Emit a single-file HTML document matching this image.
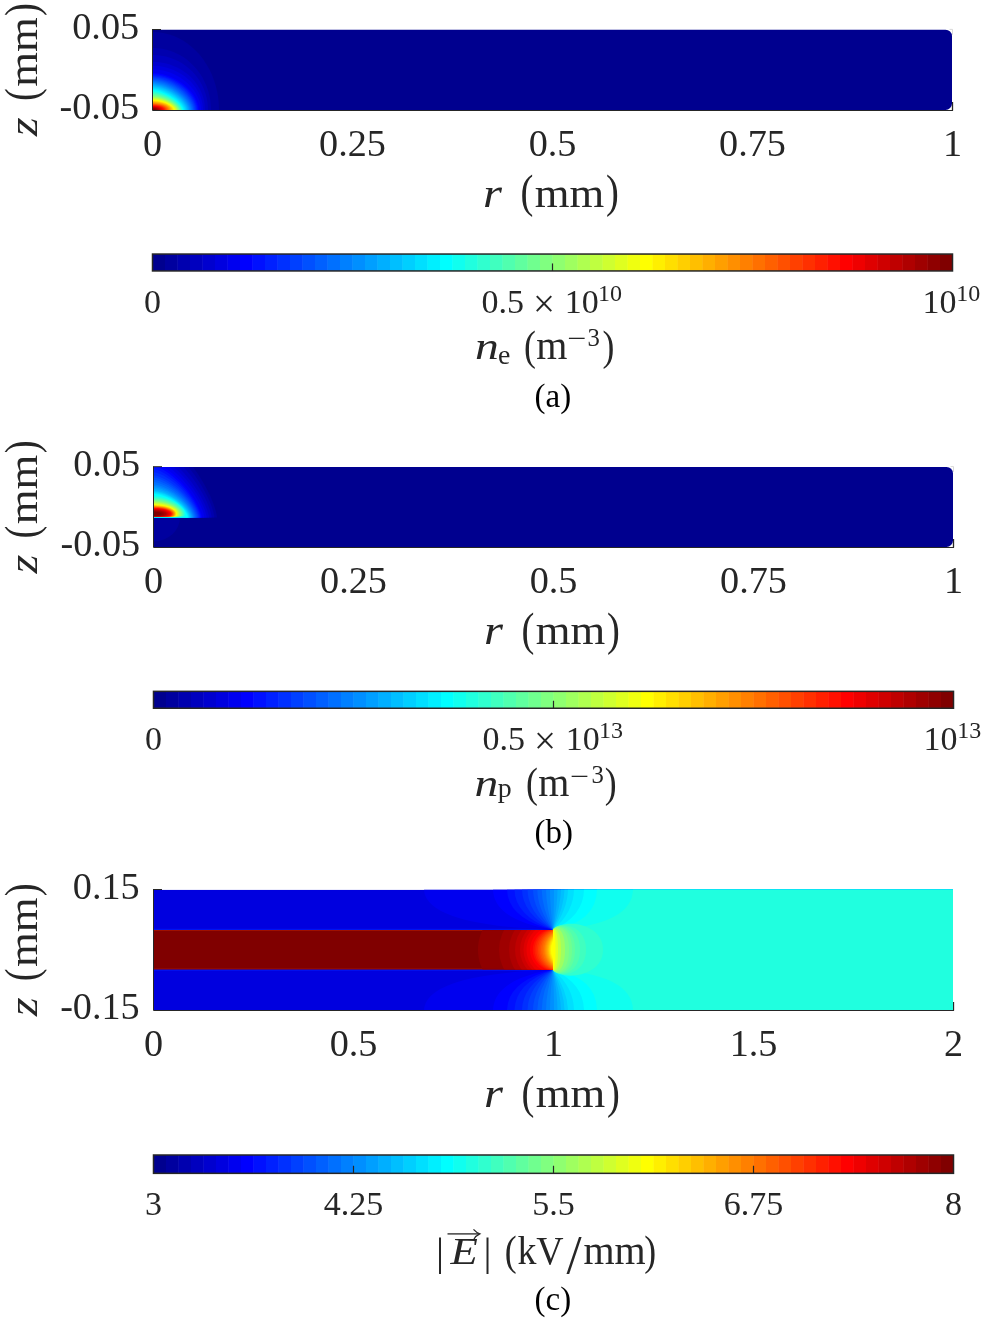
<!DOCTYPE html><html><head><meta charset="utf-8"><title>Figure</title><style>
html,body{margin:0;padding:0;background:#fff;overflow:hidden}svg{display:block}
text{font-family:"Liberation Serif",serif;fill:#262626;white-space:pre}
.it{font-style:italic}.cap{fill:#000}
</style></head><body>
<svg width="984" height="1322" viewBox="0 0 984 1322">
<path d="M152.5,29.0 V110.5 H953.0" stroke="#262626" stroke-width="1" fill="none"/>
<path d="M352.5,110.5 V102.0M552.5,110.5 V102.0M752.5,110.5 V102.0M952.5,110.5 V102.0" stroke="#262626" stroke-width="1.3" fill="none"/>
<path d="M153.5,466.2 V547.5 H954.0" stroke="#262626" stroke-width="1" fill="none"/>
<path d="M353.5,547.5 V539.0M553.5,547.5 V539.0M753.5,547.5 V539.0M953.5,547.5 V539.0" stroke="#262626" stroke-width="1.3" fill="none"/>
<path d="M153.5,889.0 V1010.5 H954.0" stroke="#262626" stroke-width="1" fill="none"/>
<path d="M353.5,1010.5 V1002.0M553.5,1010.5 V1002.0M753.5,1010.5 V1002.0M953.5,1010.5 V1002.0" stroke="#262626" stroke-width="1.3" fill="none"/>
<clipPath id="ca"><path d="M153,29.7 H945.5 A6.5,6.5 0 0 1 952,36.2 V103.5 A6.5,6.5 0 0 1 945.5,110.0 H153 Z"/></clipPath><path d="M153,29.7 H945.5 A6.5,6.5 0 0 1 952,36.2 V103.5 A6.5,6.5 0 0 1 945.5,110.0 H153 Z" fill="#00008f"/>
<g clip-path="url(#ca)">
<path d="M151,32.0 L153.0,32.0 158.2,32.2 163.3,33.0 168.4,34.2 173.4,35.8 178.3,37.9 183.0,40.5 187.5,43.5 191.8,46.9 195.9,50.7 199.7,54.8 203.2,59.3 206.4,64.2 209.3,69.2 211.8,74.6 214.0,80.2 215.8,85.9 217.2,91.8 218.2,97.8 218.8,103.9 219.0,110.0 218.8,116.1 218.2,122.2 217.2,128.2 215.8,134.1 214.0,139.8 211.8,145.4 209.3,150.8 206.4,155.8 203.2,160.7 199.7,165.2 195.9,169.3 191.8,173.1 187.5,176.5 183.0,179.5 178.3,182.1 173.4,184.2 168.4,185.8 163.3,187.0 158.2,187.8 153.0,188.0 L151,188.0 Z" fill="#00009f"/>
<path d="M151,48.0 L153.0,48.0 157.6,48.2 162.1,48.8 166.5,49.7 170.9,51.0 175.2,52.7 179.3,54.8 183.3,57.1 187.1,59.8 190.7,62.9 194.0,66.2 197.1,69.7 199.9,73.6 202.5,77.6 204.7,81.9 206.6,86.3 208.2,90.8 209.4,95.5 210.3,100.3 210.8,105.1 211.0,110.0 210.8,114.9 210.3,119.7 209.4,124.5 208.2,129.2 206.6,133.7 204.7,138.1 202.5,142.4 199.9,146.4 197.1,150.3 194.0,153.8 190.7,157.1 187.1,160.2 183.3,162.9 179.3,165.2 175.2,167.3 170.9,169.0 166.5,170.3 162.1,171.2 157.6,171.8 153.0,172.0 L151,172.0 Z" fill="#0000af"/>
<path d="M151,55.0 L153.0,55.0 157.3,55.2 161.6,55.7 165.8,56.5 170.0,57.7 174.0,59.2 178.0,61.0 181.7,63.1 185.3,65.5 188.7,68.2 191.9,71.1 194.8,74.3 197.5,77.7 199.9,81.3 202.0,85.0 203.8,89.0 205.3,93.0 206.5,97.2 207.3,101.4 207.8,105.7 208.0,110.0 207.8,114.3 207.3,118.6 206.5,122.8 205.3,127.0 203.8,131.0 202.0,135.0 199.9,138.7 197.5,142.3 194.8,145.7 191.9,148.9 188.7,151.8 185.3,154.5 181.7,156.9 178.0,159.0 174.0,160.8 170.0,162.3 165.8,163.5 161.6,164.3 157.3,164.8 153.0,165.0 L151,165.0 Z" fill="#0000bf"/>
<path d="M151,62.0 L153.0,62.0 157.1,62.1 161.1,62.6 165.1,63.3 169.1,64.3 172.9,65.7 176.6,67.2 180.2,69.1 183.6,71.2 186.8,73.5 189.8,76.1 192.5,78.8 195.1,81.8 197.3,84.9 199.3,88.2 201.0,91.6 202.5,95.2 203.6,98.8 204.4,102.5 204.8,106.2 205.0,110.0 204.8,113.8 204.4,117.5 203.6,121.2 202.5,124.8 201.0,128.4 199.3,131.8 197.3,135.1 195.1,138.2 192.5,141.2 189.8,143.9 186.8,146.5 183.6,148.8 180.2,150.9 176.6,152.8 172.9,154.3 169.1,155.7 165.1,156.7 161.1,157.4 157.1,157.9 153.0,158.0 L151,158.0 Z" fill="#0000cf"/>
<path d="M151,65.7 L153.0,65.7 156.6,65.8 160.3,66.2 164.1,66.9 167.8,67.9 171.5,69.2 175.1,70.7 178.5,72.4 181.9,74.4 185.0,76.6 187.9,79.0 190.7,81.6 193.2,84.4 195.4,87.3 197.4,90.4 199.1,93.6 200.5,96.8 201.6,100.2 202.4,103.5 202.8,106.8 203.0,110.0 202.8,113.2 202.4,116.5 201.6,119.8 200.5,123.2 199.1,126.4 197.4,129.6 195.4,132.7 193.2,135.6 190.7,138.4 187.9,141.0 185.0,143.4 181.9,145.6 178.5,147.6 175.1,149.3 171.5,150.8 167.8,152.1 164.1,153.1 160.3,153.8 156.6,154.2 153.0,154.3 L151,154.3 Z" fill="#0000df"/>
<path d="M151,69.3 L153.0,69.3 156.1,69.5 159.6,69.9 163.1,70.5 166.6,71.5 170.2,72.6 173.6,74.1 176.9,75.7 180.2,77.6 183.2,79.7 186.1,81.9 188.8,84.4 191.2,87.0 193.5,89.7 195.4,92.6 197.1,95.5 198.5,98.4 199.6,101.4 200.4,104.4 200.8,107.3 201.0,110.0 200.8,112.7 200.4,115.6 199.6,118.6 198.5,121.6 197.1,124.5 195.4,127.4 193.5,130.3 191.2,133.0 188.8,135.6 186.1,138.1 183.2,140.3 180.2,142.4 176.9,144.3 173.6,145.9 170.2,147.4 166.6,148.5 163.1,149.5 159.6,150.1 156.1,150.5 153.0,150.7 L151,150.7 Z" fill="#0000ef"/>
<path d="M151,73.0 L153.0,73.0 155.7,73.1 158.9,73.5 162.1,74.1 165.5,75.0 168.8,76.1 172.1,77.5 175.4,79.0 178.5,80.8 181.5,82.7 184.3,84.8 186.9,87.1 189.3,89.5 191.5,92.0 193.5,94.6 195.1,97.3 196.5,100.0 197.6,102.7 198.4,105.3 198.8,107.8 199.0,110.0 198.8,112.2 198.4,114.7 197.6,117.3 196.5,120.0 195.1,122.7 193.5,125.4 191.5,128.0 189.3,130.5 186.9,132.9 184.3,135.2 181.5,137.3 178.5,139.2 175.4,141.0 172.1,142.5 168.8,143.9 165.5,145.0 162.1,145.9 158.9,146.5 155.7,146.9 153.0,147.0 L151,147.0 Z" fill="#0000ff"/>
<path d="M151,74.1 L153.0,74.1 155.6,74.2 158.6,74.6 161.7,75.2 165.0,76.1 168.2,77.2 171.5,78.5 174.7,80.0 177.7,81.7 180.7,83.7 183.5,85.7 186.1,87.9 188.4,90.3 190.6,92.7 192.5,95.3 194.2,97.8 195.5,100.4 196.6,103.0 197.4,105.6 197.8,108.0 198.0,110.0 197.8,112.0 197.4,114.4 196.6,117.0 195.5,119.6 194.2,122.2 192.5,124.7 190.6,127.3 188.4,129.7 186.1,132.1 183.5,134.3 180.7,136.3 177.7,138.3 174.7,140.0 171.5,141.5 168.2,142.8 165.0,143.9 161.7,144.8 158.6,145.4 155.6,145.8 153.0,145.9 L151,145.9 Z" fill="#0010ff"/>
<path d="M151,75.2 L153.0,75.2 155.4,75.4 158.3,75.7 161.3,76.3 164.5,77.2 167.7,78.3 170.8,79.5 174.0,81.0 177.0,82.7 179.9,84.6 182.6,86.6 185.2,88.8 187.5,91.1 189.7,93.5 191.6,95.9 193.2,98.4 194.5,100.9 195.6,103.4 196.4,105.8 196.8,108.1 197.0,110.0 196.8,111.9 196.4,114.2 195.6,116.6 194.5,119.1 193.2,121.6 191.6,124.1 189.7,126.5 187.5,128.9 185.2,131.2 182.6,133.4 179.9,135.4 177.0,137.3 174.0,139.0 170.8,140.5 167.7,141.7 164.5,142.8 161.3,143.7 158.3,144.3 155.4,144.6 153.0,144.8 L151,144.8 Z" fill="#0020ff"/>
<path d="M151,76.4 L153.0,76.4 155.2,76.5 158.0,76.9 161.0,77.4 164.0,78.3 167.1,79.3 170.2,80.6 173.3,82.0 176.2,83.7 179.1,85.5 181.8,87.5 184.3,89.6 186.6,91.8 188.7,94.2 190.6,96.5 192.2,99.0 193.6,101.4 194.6,103.8 195.4,106.1 195.8,108.2 196.0,110.0 195.8,111.8 195.4,113.9 194.6,116.2 193.6,118.6 192.2,121.0 190.6,123.5 188.7,125.8 186.6,128.2 184.3,130.4 181.8,132.5 179.1,134.5 176.2,136.3 173.3,138.0 170.2,139.4 167.1,140.7 164.0,141.7 161.0,142.6 158.0,143.1 155.2,143.5 153.0,143.6 L151,143.6 Z" fill="#0030ff"/>
<path d="M151,77.5 L153.0,77.5 155.1,77.6 157.7,78.0 160.6,78.6 163.5,79.4 166.6,80.4 169.6,81.6 172.6,83.1 175.5,84.7 178.3,86.5 180.9,88.4 183.4,90.4 185.7,92.6 187.8,94.9 189.7,97.2 191.3,99.5 192.6,101.8 193.6,104.1 194.4,106.3 194.8,108.4 195.0,110.0 194.8,111.6 194.4,113.7 193.6,115.9 192.6,118.2 191.3,120.5 189.7,122.8 187.8,125.1 185.7,127.4 183.4,129.6 180.9,131.6 178.3,133.5 175.5,135.3 172.6,136.9 169.6,138.4 166.6,139.6 163.5,140.6 160.6,141.4 157.7,142.0 155.1,142.4 153.0,142.5 L151,142.5 Z" fill="#0040ff"/>
<path d="M151,78.6 L153.0,78.6 155.0,78.7 157.5,79.1 160.2,79.7 163.1,80.4 166.0,81.5 169.0,82.7 171.9,84.1 174.7,85.6 177.5,87.4 180.1,89.3 182.6,91.3 184.8,93.4 186.9,95.5 188.7,97.8 190.3,100.0 191.6,102.3 192.7,104.5 193.4,106.6 193.8,108.5 194.0,110.0 193.8,111.5 193.4,113.4 192.7,115.5 191.6,117.7 190.3,120.0 188.7,122.2 186.9,124.5 184.8,126.6 182.6,128.7 180.1,130.7 177.5,132.6 174.7,134.4 171.9,135.9 169.0,137.3 166.0,138.5 163.1,139.6 160.2,140.3 157.5,140.9 155.0,141.3 153.0,141.4 L151,141.4 Z" fill="#0050ff"/>
<path d="M151,79.8 L153.0,79.8 154.8,79.9 157.2,80.2 159.9,80.8 162.6,81.5 165.5,82.5 168.4,83.7 171.2,85.1 174.0,86.6 176.7,88.3 179.3,90.1 181.7,92.1 183.9,94.1 186.0,96.2 187.8,98.4 189.3,100.6 190.6,102.7 191.7,104.8 192.4,106.8 192.9,108.6 193.0,110.0 192.9,111.4 192.4,113.2 191.7,115.2 190.6,117.3 189.3,119.4 187.8,121.6 186.0,123.8 183.9,125.9 181.7,127.9 179.3,129.9 176.7,131.7 174.0,133.4 171.2,134.9 168.4,136.3 165.5,137.5 162.6,138.5 159.9,139.2 157.2,139.8 154.8,140.1 153.0,140.2 L151,140.2 Z" fill="#0060ff"/>
<path d="M151,80.9 L153.0,80.9 154.7,81.0 157.0,81.3 159.5,81.9 162.2,82.6 165.0,83.6 167.8,84.7 170.5,86.1 173.3,87.6 175.9,89.2 178.5,91.0 180.8,92.9 183.0,94.9 185.1,96.9 186.8,99.0 188.4,101.1 189.7,103.1 190.7,105.1 191.4,107.0 191.9,108.7 192.0,110.0 191.9,111.3 191.4,113.0 190.7,114.9 189.7,116.9 188.4,118.9 186.8,121.0 185.1,123.1 183.0,125.1 180.8,127.1 178.5,129.0 175.9,130.8 173.3,132.4 170.5,133.9 167.8,135.3 165.0,136.4 162.2,137.4 159.5,138.1 157.0,138.7 154.7,139.0 153.0,139.1 L151,139.1 Z" fill="#0070ff"/>
<path d="M151,82.0 L153.0,82.0 154.6,82.1 156.7,82.4 159.2,83.0 161.8,83.7 164.4,84.6 167.2,85.8 169.9,87.1 172.6,88.5 175.2,90.1 177.6,91.8 180.0,93.7 182.2,95.6 184.1,97.6 185.9,99.6 187.4,101.6 188.7,103.5 189.7,105.5 190.4,107.2 190.9,108.8 191.0,110.0 190.9,111.2 190.4,112.8 189.7,114.5 188.7,116.5 187.4,118.4 185.9,120.4 184.1,122.4 182.2,124.4 180.0,126.3 177.6,128.2 175.2,129.9 172.6,131.5 169.9,132.9 167.2,134.2 164.4,135.4 161.8,136.3 159.2,137.0 156.7,137.6 154.6,137.9 153.0,138.0 L151,138.0 Z" fill="#0080ff"/>
<path d="M151,83.0 L153.0,83.0 154.5,83.1 156.6,83.4 158.9,83.9 161.4,84.7 164.1,85.6 166.7,86.7 169.4,87.9 172.0,89.3 174.5,90.9 177.0,92.6 179.2,94.3 181.4,96.2 183.3,98.1 185.0,100.0 186.5,101.9 187.8,103.9 188.8,105.7 189.5,107.4 189.9,108.9 190.1,110.0 189.9,111.1 189.5,112.6 188.8,114.3 187.8,116.1 186.5,118.1 185.0,120.0 183.3,121.9 181.4,123.8 179.2,125.7 177.0,127.4 174.5,129.1 172.0,130.7 169.4,132.1 166.7,133.3 164.1,134.4 161.4,135.3 158.9,136.1 156.6,136.6 154.5,136.9 153.0,137.0 L151,137.0 Z" fill="#008fff"/>
<path d="M151,84.0 L153.0,84.0 154.4,84.1 156.4,84.4 158.7,84.9 161.1,85.6 163.7,86.5 166.3,87.5 168.8,88.8 171.4,90.1 173.9,91.6 176.3,93.3 178.5,95.0 180.6,96.8 182.5,98.6 184.2,100.5 185.7,102.3 186.9,104.1 187.9,105.9 188.6,107.5 189.0,109.0 189.1,110.0 189.0,111.0 188.6,112.5 187.9,114.1 186.9,115.9 185.7,117.7 184.2,119.5 182.5,121.4 180.6,123.2 178.5,125.0 176.3,126.7 173.9,128.4 171.4,129.9 168.8,131.2 166.3,132.5 163.7,133.5 161.1,134.4 158.7,135.1 156.4,135.6 154.4,135.9 153.0,136.0 L151,136.0 Z" fill="#009fff"/>
<path d="M151,85.0 L153.0,85.0 154.4,85.1 156.3,85.4 158.5,85.9 160.8,86.6 163.3,87.4 165.8,88.4 168.3,89.6 170.8,90.9 173.3,92.4 175.6,94.0 177.8,95.6 179.8,97.3 181.7,99.1 183.4,100.9 184.8,102.7 186.0,104.4 186.9,106.1 187.6,107.7 188.0,109.0 188.2,110.0 188.0,111.0 187.6,112.3 186.9,113.9 186.0,115.6 184.8,117.3 183.4,119.1 181.7,120.9 179.8,122.7 177.8,124.4 175.6,126.0 173.3,127.6 170.8,129.1 168.3,130.4 165.8,131.6 163.3,132.6 160.8,133.4 158.5,134.1 156.3,134.6 154.4,134.9 153.0,135.0 L151,135.0 Z" fill="#00afff"/>
<path d="M151,86.0 L153.0,86.0 154.3,86.1 156.1,86.4 158.2,86.9 160.5,87.5 162.9,88.3 165.4,89.3 167.8,90.5 170.3,91.7 172.6,93.1 174.9,94.7 177.1,96.2 179.1,97.9 180.9,99.6 182.5,101.3 183.9,103.1 185.1,104.7 186.0,106.3 186.7,107.8 187.1,109.1 187.2,110.0 187.1,110.9 186.7,112.2 186.0,113.7 185.1,115.3 183.9,116.9 182.5,118.7 180.9,120.4 179.1,122.1 177.1,123.8 174.9,125.3 172.6,126.9 170.3,128.3 167.8,129.5 165.4,130.7 162.9,131.7 160.5,132.5 158.2,133.1 156.1,133.6 154.3,133.9 153.0,134.0 L151,134.0 Z" fill="#00bfff"/>
<path d="M151,87.0 L153.0,87.0 154.2,87.1 156.0,87.4 158.0,87.8 160.2,88.5 162.5,89.3 164.9,90.2 167.3,91.3 169.7,92.5 172.0,93.9 174.2,95.3 176.3,96.9 178.3,98.5 180.1,100.1 181.7,101.8 183.1,103.4 184.2,105.0 185.1,106.5 185.8,107.9 186.2,109.2 186.3,110.0 186.2,110.8 185.8,112.1 185.1,113.5 184.2,115.0 183.1,116.6 181.7,118.2 180.1,119.9 178.3,121.5 176.3,123.1 174.2,124.7 172.0,126.1 169.7,127.5 167.3,128.7 164.9,129.8 162.5,130.7 160.2,131.5 158.0,132.2 156.0,132.6 154.2,132.9 153.0,133.0 L151,133.0 Z" fill="#00cfff"/>
<path d="M151,88.0 L153.0,88.0 154.1,88.1 155.8,88.4 157.8,88.8 159.9,89.4 162.2,90.2 164.5,91.1 166.8,92.2 169.1,93.3 171.4,94.6 173.6,96.0 175.6,97.5 177.5,99.0 179.3,100.6 180.8,102.2 182.2,103.8 183.3,105.3 184.2,106.7 184.9,108.1 185.2,109.2 185.4,110.0 185.2,110.8 184.9,111.9 184.2,113.3 183.3,114.7 182.2,116.2 180.8,117.8 179.3,119.4 177.5,121.0 175.6,122.5 173.6,124.0 171.4,125.4 169.1,126.7 166.8,127.8 164.5,128.9 162.2,129.8 159.9,130.6 157.8,131.2 155.8,131.6 154.1,131.9 153.0,132.0 L151,132.0 Z" fill="#00dfff"/>
<path d="M151,89.0 L153.0,89.0 154.1,89.1 155.7,89.3 157.6,89.8 159.7,90.3 161.8,91.1 164.1,92.0 166.3,93.0 168.6,94.1 170.8,95.4 172.9,96.7 174.9,98.1 176.8,99.6 178.5,101.1 180.0,102.6 181.3,104.1 182.4,105.6 183.3,106.9 183.9,108.2 184.3,109.3 184.4,110.0 184.3,110.7 183.9,111.8 183.3,113.1 182.4,114.4 181.3,115.9 180.0,117.4 178.5,118.9 176.8,120.4 174.9,121.9 172.9,123.3 170.8,124.6 168.6,125.9 166.3,127.0 164.1,128.0 161.8,128.9 159.7,129.7 157.6,130.2 155.7,130.7 154.1,130.9 153.0,131.0 L151,131.0 Z" fill="#00efff"/>
<path d="M151,90.0 L153.0,90.0 154.0,90.1 155.6,90.3 157.4,90.7 159.4,91.3 161.5,92.0 163.6,92.9 165.8,93.8 168.0,94.9 170.2,96.1 172.2,97.4 174.2,98.8 176.0,100.2 177.7,101.6 179.2,103.0 180.4,104.4 181.5,105.8 182.4,107.1 183.0,108.3 183.4,109.3 183.5,110.0 183.4,110.7 183.0,111.7 182.4,112.9 181.5,114.2 180.4,115.6 179.2,117.0 177.7,118.4 176.0,119.8 174.2,121.2 172.2,122.6 170.2,123.9 168.0,125.1 165.8,126.2 163.6,127.1 161.5,128.0 159.4,128.7 157.4,129.3 155.6,129.7 154.0,129.9 153.0,130.0 L151,130.0 Z" fill="#00ffff"/>
<path d="M151,90.8 L153.0,90.8 154.0,90.8 155.5,91.1 157.3,91.5 159.3,92.0 161.4,92.7 163.5,93.5 165.6,94.4 167.8,95.5 169.9,96.6 171.9,97.8 173.8,99.1 175.6,100.5 177.2,101.9 178.7,103.3 180.0,104.6 181.0,106.0 181.8,107.2 182.4,108.4 182.8,109.3 182.9,110.0 182.8,110.7 182.4,111.6 181.8,112.8 181.0,114.0 180.0,115.4 178.7,116.7 177.2,118.1 175.6,119.5 173.8,120.9 171.9,122.2 169.9,123.4 167.8,124.5 165.6,125.6 163.5,126.5 161.4,127.3 159.3,128.0 157.3,128.5 155.5,128.9 154.0,129.2 153.0,129.2 L151,129.2 Z" fill="#10ffef"/>
<path d="M151,91.5 L153.0,91.5 154.0,91.6 155.5,91.8 157.3,92.2 159.2,92.7 161.2,93.3 163.3,94.1 165.5,95.0 167.5,96.0 169.6,97.1 171.6,98.3 173.4,99.5 175.2,100.8 176.8,102.2 178.2,103.5 179.5,104.8 180.5,106.1 181.3,107.3 181.9,108.4 182.3,109.4 182.4,110.0 182.3,110.6 181.9,111.6 181.3,112.7 180.5,113.9 179.5,115.2 178.2,116.5 176.8,117.8 175.2,119.2 173.4,120.5 171.6,121.7 169.6,122.9 167.5,124.0 165.5,125.0 163.3,125.9 161.2,126.7 159.2,127.3 157.3,127.8 155.5,128.2 154.0,128.4 153.0,128.5 L151,128.5 Z" fill="#20ffdf"/>
<path d="M151,92.2 L153.0,92.2 154.0,92.3 155.5,92.5 157.2,92.9 159.1,93.4 161.1,94.0 163.2,94.8 165.3,95.6 167.3,96.6 169.3,97.6 171.3,98.8 173.1,99.9 174.8,101.2 176.4,102.4 177.8,103.7 179.0,105.0 180.0,106.2 180.8,107.4 181.3,108.5 181.7,109.4 181.8,110.0 181.7,110.6 181.3,111.5 180.8,112.6 180.0,113.8 179.0,115.0 177.8,116.3 176.4,117.6 174.8,118.8 173.1,120.1 171.3,121.2 169.3,122.4 167.3,123.4 165.3,124.4 163.2,125.2 161.1,126.0 159.1,126.6 157.2,127.1 155.5,127.5 154.0,127.7 153.0,127.8 L151,127.8 Z" fill="#30ffcf"/>
<path d="M151,93.0 L153.0,93.0 154.0,93.1 155.5,93.3 157.2,93.6 159.1,94.1 161.0,94.7 163.0,95.4 165.1,96.2 167.1,97.1 169.0,98.1 170.9,99.2 172.7,100.3 174.4,101.5 175.9,102.7 177.3,104.0 178.5,105.2 179.5,106.4 180.2,107.5 180.8,108.5 181.1,109.4 181.2,110.0 181.1,110.6 180.8,111.5 180.2,112.5 179.5,113.6 178.5,114.8 177.3,116.0 175.9,117.3 174.4,118.5 172.7,119.7 170.9,120.8 169.0,121.9 167.1,122.9 165.1,123.8 163.0,124.6 161.0,125.3 159.1,125.9 157.2,126.4 155.5,126.7 154.0,126.9 153.0,127.0 L151,127.0 Z" fill="#40ffbf"/>
<path d="M151,93.8 L153.0,93.8 154.0,93.8 155.5,94.0 157.1,94.3 159.0,94.8 160.9,95.3 162.9,96.0 164.9,96.8 166.8,97.7 168.8,98.6 170.6,99.7 172.4,100.8 174.0,101.9 175.5,103.0 176.8,104.2 178.0,105.4 178.9,106.5 179.7,107.6 180.2,108.6 180.6,109.4 180.7,110.0 180.6,110.6 180.2,111.4 179.7,112.4 178.9,113.5 178.0,114.6 176.8,115.8 175.5,117.0 174.0,118.1 172.4,119.2 170.6,120.3 168.8,121.4 166.8,122.3 164.9,123.2 162.9,124.0 160.9,124.7 159.0,125.2 157.1,125.7 155.5,126.0 154.0,126.2 153.0,126.2 L151,126.2 Z" fill="#50ffaf"/>
<path d="M151,94.5 L153.0,94.5 154.0,94.6 155.4,94.7 157.1,95.1 158.9,95.5 160.8,96.0 162.7,96.7 164.7,97.4 166.6,98.2 168.5,99.1 170.3,100.1 172.0,101.2 173.6,102.2 175.0,103.3 176.3,104.5 177.5,105.6 178.4,106.6 179.2,107.7 179.7,108.6 180.0,109.4 180.1,110.0 180.0,110.6 179.7,111.4 179.2,112.3 178.4,113.4 177.5,114.4 176.3,115.5 175.0,116.7 173.6,117.8 172.0,118.8 170.3,119.9 168.5,120.9 166.6,121.8 164.7,122.6 162.7,123.3 160.8,124.0 158.9,124.5 157.1,124.9 155.4,125.3 154.0,125.4 153.0,125.5 L151,125.5 Z" fill="#60ff9f"/>
<path d="M151,95.2 L153.0,95.2 154.0,95.3 155.4,95.5 157.0,95.8 158.8,96.2 160.7,96.7 162.5,97.3 164.5,98.0 166.3,98.8 168.2,99.7 170.0,100.6 171.6,101.6 173.2,102.6 174.6,103.6 175.9,104.7 177.0,105.8 177.9,106.8 178.6,107.8 179.1,108.7 179.5,109.5 179.6,110.0 179.5,110.5 179.1,111.3 178.6,112.2 177.9,113.2 177.0,114.2 175.9,115.3 174.6,116.4 173.2,117.4 171.6,118.4 170.0,119.4 168.2,120.3 166.3,121.2 164.5,122.0 162.5,122.7 160.7,123.3 158.8,123.8 157.0,124.2 155.4,124.5 154.0,124.7 153.0,124.8 L151,124.8 Z" fill="#70ff8f"/>
<path d="M151,96.0 L153.0,96.0 154.0,96.1 155.4,96.2 157.0,96.5 158.7,96.9 160.5,97.4 162.4,97.9 164.3,98.6 166.1,99.3 167.9,100.2 169.6,101.0 171.3,102.0 172.8,102.9 174.2,103.9 175.4,104.9 176.5,105.9 177.4,106.9 178.1,107.9 178.6,108.7 178.9,109.5 179.0,110.0 178.9,110.5 178.6,111.3 178.1,112.1 177.4,113.1 176.5,114.1 175.4,115.1 174.2,116.1 172.8,117.1 171.3,118.0 169.6,119.0 167.9,119.8 166.1,120.7 164.3,121.4 162.4,122.1 160.5,122.6 158.7,123.1 157.0,123.5 155.4,123.8 154.0,123.9 153.0,124.0 L151,124.0 Z" fill="#80ff80"/>
<path d="M151,96.5 L153.0,96.5 154.0,96.6 155.4,96.7 157.0,97.0 158.7,97.3 160.5,97.8 162.3,98.3 164.1,99.0 165.9,99.7 167.7,100.5 169.4,101.3 170.9,102.2 172.4,103.1 173.8,104.1 175.0,105.1 176.0,106.0 176.9,107.0 177.5,107.9 178.0,108.7 178.3,109.5 178.4,110.0 178.3,110.5 178.0,111.3 177.5,112.1 176.9,113.0 176.0,114.0 175.0,114.9 173.8,115.9 172.4,116.9 170.9,117.8 169.4,118.7 167.7,119.5 165.9,120.3 164.1,121.0 162.3,121.7 160.5,122.2 158.7,122.7 157.0,123.0 155.4,123.3 154.0,123.4 153.0,123.5 L151,123.5 Z" fill="#8fff70"/>
<path d="M151,97.0 L153.0,97.0 154.0,97.1 155.4,97.2 157.0,97.5 158.7,97.8 160.4,98.2 162.2,98.8 164.0,99.4 165.7,100.0 167.4,100.8 169.1,101.6 170.6,102.5 172.0,103.3 173.3,104.3 174.5,105.2 175.5,106.1 176.4,107.0 177.0,107.9 177.5,108.7 177.8,109.5 177.9,110.0 177.8,110.5 177.5,111.3 177.0,112.1 176.4,113.0 175.5,113.9 174.5,114.8 173.3,115.7 172.0,116.7 170.6,117.5 169.1,118.4 167.4,119.2 165.7,120.0 164.0,120.6 162.2,121.2 160.4,121.8 158.7,122.2 157.0,122.5 155.4,122.8 154.0,122.9 153.0,123.0 L151,123.0 Z" fill="#9fff60"/>
<path d="M151,97.5 L153.0,97.5 154.0,97.5 155.4,97.7 157.0,97.9 158.6,98.3 160.4,98.7 162.1,99.2 163.8,99.8 165.5,100.4 167.2,101.1 168.8,101.9 170.3,102.7 171.7,103.6 172.9,104.4 174.1,105.3 175.0,106.2 175.8,107.1 176.5,108.0 176.9,108.8 177.2,109.5 177.3,110.0 177.2,110.5 176.9,111.2 176.5,112.0 175.8,112.9 175.0,113.8 174.1,114.7 172.9,115.6 171.7,116.4 170.3,117.3 168.8,118.1 167.2,118.9 165.5,119.6 163.8,120.2 162.1,120.8 160.4,121.3 158.6,121.7 157.0,122.1 155.4,122.3 154.0,122.5 153.0,122.5 L151,122.5 Z" fill="#afff50"/>
<path d="M151,98.0 L153.0,98.0 154.0,98.0 155.4,98.2 157.0,98.4 158.6,98.7 160.3,99.1 162.0,99.6 163.7,100.1 165.3,100.8 167.0,101.4 168.5,102.2 170.0,102.9 171.3,103.8 172.5,104.6 173.6,105.5 174.5,106.3 175.3,107.2 175.9,108.0 176.4,108.8 176.7,109.5 176.8,110.0 176.7,110.5 176.4,111.2 175.9,112.0 175.3,112.8 174.5,113.7 173.6,114.5 172.5,115.4 171.3,116.2 170.0,117.1 168.5,117.8 167.0,118.6 165.3,119.2 163.7,119.9 162.0,120.4 160.3,120.9 158.6,121.3 157.0,121.6 155.4,121.8 154.0,122.0 153.0,122.0 L151,122.0 Z" fill="#bfff40"/>
<path d="M151,98.5 L153.0,98.5 154.0,98.5 155.4,98.7 156.9,98.9 158.6,99.2 160.2,99.6 161.9,100.0 163.5,100.5 165.1,101.1 166.7,101.8 168.2,102.5 169.6,103.2 170.9,104.0 172.1,104.8 173.1,105.6 174.1,106.4 174.8,107.2 175.4,108.0 175.8,108.8 176.1,109.5 176.2,110.0 176.1,110.5 175.8,111.2 175.4,112.0 174.8,112.8 174.1,113.6 173.1,114.4 172.1,115.2 170.9,116.0 169.6,116.8 168.2,117.5 166.7,118.2 165.1,118.9 163.5,119.5 161.9,120.0 160.2,120.4 158.6,120.8 156.9,121.1 155.4,121.3 154.0,121.5 153.0,121.5 L151,121.5 Z" fill="#cfff30"/>
<path d="M151,99.0 L153.0,99.0 154.1,99.0 155.4,99.2 156.9,99.4 158.5,99.6 160.1,100.0 161.8,100.4 163.4,100.9 164.9,101.5 166.5,102.1 167.9,102.8 169.3,103.5 170.5,104.2 171.7,105.0 172.7,105.7 173.6,106.5 174.3,107.3 174.9,108.1 175.3,108.8 175.5,109.5 175.6,110.0 175.5,110.5 175.3,111.2 174.9,111.9 174.3,112.7 173.6,113.5 172.7,114.3 171.7,115.0 170.5,115.8 169.3,116.5 167.9,117.2 166.5,117.9 164.9,118.5 163.4,119.1 161.8,119.6 160.1,120.0 158.5,120.4 156.9,120.6 155.4,120.8 154.1,121.0 153.0,121.0 L151,121.0 Z" fill="#dfff20"/>
<path d="M151,99.5 L153.0,99.5 154.1,99.5 155.4,99.7 156.9,99.8 158.5,100.1 160.0,100.4 161.6,100.8 163.2,101.3 164.7,101.8 166.2,102.4 167.6,103.0 168.9,103.7 170.1,104.4 171.3,105.1 172.2,105.9 173.1,106.7 173.8,107.4 174.3,108.1 174.7,108.8 175.0,109.5 175.1,110.0 175.0,110.5 174.7,111.2 174.3,111.9 173.8,112.6 173.1,113.3 172.2,114.1 171.3,114.9 170.1,115.6 168.9,116.3 167.6,117.0 166.2,117.6 164.7,118.2 163.2,118.7 161.6,119.2 160.0,119.6 158.5,119.9 156.9,120.2 155.4,120.3 154.1,120.5 153.0,120.5 L151,120.5 Z" fill="#efff10"/>
<path d="M151,100.0 L153.0,100.0 154.1,100.0 155.4,100.1 156.9,100.3 158.4,100.6 159.9,100.9 161.5,101.3 163.0,101.7 164.5,102.2 165.9,102.8 167.3,103.3 168.6,104.0 169.8,104.6 170.8,105.3 171.8,106.1 172.6,106.8 173.3,107.5 173.8,108.2 174.2,108.9 174.4,109.5 174.5,110.0 174.4,110.5 174.2,111.1 173.8,111.8 173.3,112.5 172.6,113.2 171.8,113.9 170.8,114.7 169.8,115.4 168.6,116.0 167.3,116.7 165.9,117.2 164.5,117.8 163.0,118.3 161.5,118.7 159.9,119.1 158.4,119.4 156.9,119.7 155.4,119.9 154.1,120.0 153.0,120.0 L151,120.0 Z" fill="#ffff00"/>
<path d="M151,100.4 L153.0,100.4 154.1,100.5 155.5,100.6 156.9,100.7 158.4,101.0 159.9,101.3 161.4,101.6 162.9,102.0 164.3,102.5 165.7,103.0 167.0,103.6 168.2,104.2 169.3,104.8 170.3,105.5 171.2,106.1 172.0,106.8 172.6,107.5 173.2,108.2 173.5,108.9 173.7,109.5 173.8,110.0 173.7,110.5 173.5,111.1 173.2,111.8 172.6,112.5 172.0,113.2 171.2,113.9 170.3,114.5 169.3,115.2 168.2,115.8 167.0,116.4 165.7,117.0 164.3,117.5 162.9,118.0 161.4,118.4 159.9,118.7 158.4,119.0 156.9,119.3 155.5,119.4 154.1,119.5 153.0,119.6 L151,119.6 Z" fill="#ffef00"/>
<path d="M151,100.9 L153.0,100.9 154.1,100.9 155.5,101.0 156.9,101.2 158.4,101.4 159.8,101.7 161.3,102.0 162.7,102.4 164.1,102.8 165.4,103.3 166.6,103.8 167.8,104.4 168.8,105.0 169.8,105.6 170.7,106.3 171.4,106.9 172.0,107.6 172.5,108.2 172.8,108.9 173.1,109.5 173.1,110.0 173.1,110.5 172.8,111.1 172.5,111.8 172.0,112.4 171.4,113.1 170.7,113.7 169.8,114.4 168.8,115.0 167.8,115.6 166.6,116.2 165.4,116.7 164.1,117.2 162.7,117.6 161.3,118.0 159.8,118.3 158.4,118.6 156.9,118.8 155.5,119.0 154.1,119.1 153.0,119.1 L151,119.1 Z" fill="#ffdf00"/>
<path d="M151,101.3 L153.0,101.3 154.2,101.3 155.5,101.4 156.9,101.6 158.3,101.8 159.7,102.0 161.1,102.4 162.5,102.7 163.8,103.1 165.1,103.6 166.3,104.1 167.4,104.6 168.4,105.2 169.3,105.8 170.1,106.4 170.8,107.0 171.4,107.6 171.8,108.3 172.2,108.9 172.4,109.5 172.4,110.0 172.4,110.5 172.2,111.1 171.8,111.7 171.4,112.4 170.8,113.0 170.1,113.6 169.3,114.2 168.4,114.8 167.4,115.4 166.3,115.9 165.1,116.4 163.8,116.9 162.5,117.3 161.1,117.6 159.7,118.0 158.3,118.2 156.9,118.4 155.5,118.6 154.2,118.7 153.0,118.7 L151,118.7 Z" fill="#ffcf00"/>
<path d="M151,101.8 L153.0,101.8 154.2,101.8 155.5,101.9 156.9,102.0 158.3,102.2 159.6,102.4 161.0,102.7 162.3,103.1 163.6,103.4 164.8,103.9 165.9,104.3 166.9,104.8 167.9,105.4 168.8,105.9 169.6,106.5 170.2,107.1 170.8,107.7 171.2,108.3 171.5,108.9 171.7,109.5 171.8,110.0 171.7,110.5 171.5,111.1 171.2,111.7 170.8,112.3 170.2,112.9 169.6,113.5 168.8,114.1 167.9,114.6 166.9,115.2 165.9,115.7 164.8,116.1 163.6,116.6 162.3,116.9 161.0,117.3 159.6,117.6 158.3,117.8 156.9,118.0 155.5,118.1 154.2,118.2 153.0,118.2 L151,118.2 Z" fill="#ffbf00"/>
<path d="M151,102.2 L153.0,102.2 154.2,102.2 155.5,102.3 156.9,102.4 158.2,102.6 159.5,102.8 160.8,103.1 162.1,103.4 163.3,103.8 164.4,104.2 165.5,104.6 166.5,105.1 167.4,105.6 168.3,106.1 169.0,106.6 169.6,107.2 170.1,107.7 170.5,108.3 170.8,108.9 171.0,109.5 171.1,110.0 171.0,110.5 170.8,111.1 170.5,111.7 170.1,112.3 169.6,112.8 169.0,113.4 168.3,113.9 167.4,114.4 166.5,114.9 165.5,115.4 164.4,115.8 163.3,116.2 162.1,116.6 160.8,116.9 159.5,117.2 158.2,117.4 156.9,117.6 155.5,117.7 154.2,117.8 153.0,117.8 L151,117.8 Z" fill="#ffaf00"/>
<path d="M151,102.6 L153.0,102.6 154.2,102.6 155.5,102.7 156.8,102.8 158.1,103.0 159.4,103.2 160.6,103.5 161.9,103.8 163.0,104.1 164.1,104.5 165.1,104.9 166.1,105.3 166.9,105.8 167.7,106.2 168.4,106.8 169.0,107.3 169.5,107.8 169.9,108.4 170.2,108.9 170.3,109.5 170.4,110.0 170.3,110.5 170.2,111.1 169.9,111.6 169.5,112.2 169.0,112.7 168.4,113.2 167.7,113.8 166.9,114.2 166.1,114.7 165.1,115.1 164.1,115.5 163.0,115.9 161.9,116.2 160.6,116.5 159.4,116.8 158.1,117.0 156.8,117.2 155.5,117.3 154.2,117.4 153.0,117.4 L151,117.4 Z" fill="#ff9f00"/>
<path d="M151,103.1 L153.0,103.1 154.2,103.1 155.5,103.1 156.8,103.3 158.0,103.4 159.3,103.6 160.5,103.8 161.6,104.1 162.7,104.4 163.7,104.8 164.7,105.1 165.6,105.5 166.4,106.0 167.2,106.4 167.8,106.9 168.4,107.4 168.9,107.9 169.2,108.4 169.5,109.0 169.6,109.5 169.7,110.0 169.6,110.5 169.5,111.0 169.2,111.6 168.9,112.1 168.4,112.6 167.8,113.1 167.2,113.6 166.4,114.0 165.6,114.5 164.7,114.9 163.7,115.2 162.7,115.6 161.6,115.9 160.5,116.2 159.3,116.4 158.0,116.6 156.8,116.7 155.5,116.9 154.2,116.9 153.0,116.9 L151,116.9 Z" fill="#ff8f00"/>
<path d="M151,103.5 L153.0,103.5 154.3,103.5 155.5,103.6 156.7,103.7 157.9,103.8 159.1,104.0 160.3,104.2 161.4,104.5 162.4,104.7 163.4,105.1 164.3,105.4 165.2,105.8 165.9,106.2 166.6,106.6 167.3,107.0 167.8,107.5 168.2,108.0 168.6,108.5 168.8,109.0 169.0,109.5 169.0,110.0 169.0,110.5 168.8,111.0 168.6,111.5 168.2,112.0 167.8,112.5 167.3,113.0 166.6,113.4 165.9,113.8 165.2,114.2 164.3,114.6 163.4,114.9 162.4,115.3 161.4,115.5 160.3,115.8 159.1,116.0 157.9,116.2 156.7,116.3 155.5,116.4 154.3,116.5 153.0,116.5 L151,116.5 Z" fill="#ff8000"/>
<path d="M151,103.8 L153.0,103.8 154.2,103.8 155.4,103.9 156.6,104.0 157.7,104.1 158.9,104.3 160.0,104.5 161.0,104.7 162.0,105.0 162.9,105.3 163.8,105.6 164.6,106.0 165.4,106.4 166.1,106.8 166.6,107.2 167.1,107.6 167.6,108.1 167.9,108.6 168.1,109.0 168.3,109.5 168.3,110.0 168.3,110.5 168.1,111.0 167.9,111.4 167.6,111.9 167.1,112.4 166.6,112.8 166.1,113.2 165.4,113.6 164.6,114.0 163.8,114.4 162.9,114.7 162.0,115.0 161.0,115.3 160.0,115.5 158.9,115.7 157.7,115.9 156.6,116.0 155.4,116.1 154.2,116.2 153.0,116.2 L151,116.2 Z" fill="#ff7000"/>
<path d="M151,104.1 L153.0,104.1 154.1,104.1 155.3,104.2 156.4,104.3 157.5,104.4 158.6,104.6 159.6,104.8 160.6,105.0 161.6,105.2 162.5,105.5 163.3,105.8 164.1,106.2 164.8,106.5 165.5,106.9 166.0,107.3 166.5,107.8 166.9,108.2 167.2,108.6 167.4,109.1 167.6,109.5 167.6,110.0 167.6,110.5 167.4,110.9 167.2,111.4 166.9,111.8 166.5,112.2 166.0,112.7 165.5,113.1 164.8,113.5 164.1,113.8 163.3,114.2 162.5,114.5 161.6,114.8 160.6,115.0 159.6,115.2 158.6,115.4 157.5,115.6 156.4,115.7 155.3,115.8 154.1,115.9 153.0,115.9 L151,115.9 Z" fill="#ff6000"/>
<path d="M151,104.4 L153.0,104.4 154.1,104.5 155.2,104.5 156.3,104.6 157.3,104.7 158.3,104.9 159.3,105.0 160.3,105.3 161.2,105.5 162.1,105.8 162.9,106.1 163.6,106.4 164.3,106.7 164.9,107.1 165.4,107.5 165.9,107.9 166.3,108.3 166.6,108.7 166.8,109.1 166.9,109.6 166.9,110.0 166.9,110.4 166.8,110.9 166.6,111.3 166.3,111.7 165.9,112.1 165.4,112.5 164.9,112.9 164.3,113.3 163.6,113.6 162.9,113.9 162.1,114.2 161.2,114.5 160.3,114.7 159.3,115.0 158.3,115.1 157.3,115.3 156.3,115.4 155.2,115.5 154.1,115.5 153.0,115.6 L151,115.6 Z" fill="#ff5000"/>
<path d="M151,104.8 L153.0,104.8 154.0,104.8 155.1,104.8 156.1,104.9 157.1,105.0 158.1,105.1 159.0,105.3 159.9,105.5 160.8,105.8 161.6,106.0 162.4,106.3 163.1,106.6 163.7,106.9 164.3,107.3 164.8,107.6 165.2,108.0 165.6,108.4 165.9,108.8 166.1,109.2 166.2,109.6 166.2,110.0 166.2,110.4 166.1,110.8 165.9,111.2 165.6,111.6 165.2,112.0 164.8,112.4 164.3,112.7 163.7,113.1 163.1,113.4 162.4,113.7 161.6,114.0 160.8,114.2 159.9,114.5 159.0,114.7 158.1,114.9 157.1,115.0 156.1,115.1 155.1,115.2 154.0,115.2 153.0,115.2 L151,115.2 Z" fill="#ff4000"/>
<path d="M151,105.1 L153.0,105.1 154.0,105.1 155.0,105.1 155.9,105.2 156.9,105.3 157.8,105.4 158.7,105.6 159.6,105.8 160.4,106.0 161.2,106.2 161.9,106.5 162.6,106.8 163.2,107.1 163.7,107.4 164.2,107.8 164.6,108.1 164.9,108.5 165.2,108.8 165.4,109.2 165.5,109.6 165.6,110.0 165.5,110.4 165.4,110.8 165.2,111.2 164.9,111.5 164.6,111.9 164.2,112.2 163.7,112.6 163.2,112.9 162.6,113.2 161.9,113.5 161.2,113.8 160.4,114.0 159.6,114.2 158.7,114.4 157.8,114.6 156.9,114.7 155.9,114.8 155.0,114.9 154.0,114.9 153.0,114.9 L151,114.9 Z" fill="#ff3000"/>
<path d="M151,105.4 L153.0,105.4 153.9,105.4 154.9,105.4 155.8,105.5 156.7,105.6 157.5,105.7 158.4,105.9 159.2,106.1 160.0,106.3 160.7,106.5 161.4,106.7 162.0,107.0 162.6,107.3 163.1,107.6 163.6,107.9 164.0,108.2 164.3,108.6 164.5,108.9 164.7,109.3 164.8,109.6 164.9,110.0 164.8,110.4 164.7,110.7 164.5,111.1 164.3,111.4 164.0,111.8 163.6,112.1 163.1,112.4 162.6,112.7 162.0,113.0 161.4,113.3 160.7,113.5 160.0,113.7 159.2,113.9 158.4,114.1 157.5,114.3 156.7,114.4 155.8,114.5 154.9,114.6 153.9,114.6 153.0,114.6 L151,114.6 Z" fill="#ff2000"/>
<path d="M151,105.7 L153.0,105.7 153.9,105.7 154.8,105.7 155.6,105.8 156.5,105.9 157.3,106.0 158.1,106.2 158.8,106.3 159.6,106.5 160.3,106.7 160.9,107.0 161.5,107.2 162.1,107.5 162.5,107.7 163.0,108.0 163.3,108.3 163.6,108.7 163.9,109.0 164.0,109.3 164.2,109.7 164.2,110.0 164.2,110.3 164.0,110.7 163.9,111.0 163.6,111.3 163.3,111.7 163.0,112.0 162.5,112.3 162.1,112.5 161.5,112.8 160.9,113.0 160.3,113.3 159.6,113.5 158.8,113.7 158.1,113.8 157.3,114.0 156.5,114.1 155.6,114.2 154.8,114.3 153.9,114.3 153.0,114.3 L151,114.3 Z" fill="#ff1000"/>
<path d="M151,106.0 L153.0,106.0 153.8,106.0 154.6,106.0 155.5,106.1 156.2,106.2 157.0,106.3 157.8,106.4 158.5,106.6 159.2,106.8 159.8,107.0 160.4,107.2 161.0,107.4 161.5,107.6 162.0,107.9 162.4,108.2 162.7,108.5 163.0,108.8 163.2,109.1 163.4,109.4 163.5,109.7 163.5,110.0 163.5,110.3 163.4,110.6 163.2,110.9 163.0,111.2 162.7,111.5 162.4,111.8 162.0,112.1 161.5,112.4 161.0,112.6 160.4,112.8 159.8,113.0 159.2,113.2 158.5,113.4 157.8,113.6 157.0,113.7 156.2,113.8 155.5,113.9 154.6,114.0 153.8,114.0 153.0,114.0 L151,114.0 Z" fill="#ff0000"/>
<path d="M151,106.3 L153.0,106.3 153.8,106.3 154.5,106.3 155.2,106.4 156.0,106.5 156.7,106.6 157.4,106.7 158.0,106.8 158.6,107.0 159.2,107.2 159.8,107.4 160.3,107.6 160.8,107.8 161.2,108.1 161.6,108.3 161.9,108.6 162.1,108.9 162.3,109.1 162.5,109.4 162.6,109.7 162.6,110.0 162.6,110.3 162.5,110.6 162.3,110.9 162.1,111.1 161.9,111.4 161.6,111.7 161.2,111.9 160.8,112.2 160.3,112.4 159.8,112.6 159.2,112.8 158.6,113.0 158.0,113.2 157.4,113.3 156.7,113.4 156.0,113.5 155.2,113.6 154.5,113.7 153.8,113.7 153.0,113.7 L151,113.7 Z" fill="#ef0000"/>
<path d="M151,106.6 L153.0,106.6 153.7,106.6 154.4,106.6 155.0,106.7 155.7,106.8 156.3,106.9 156.9,107.0 157.5,107.1 158.1,107.2 158.7,107.4 159.2,107.6 159.6,107.8 160.0,108.0 160.4,108.2 160.8,108.5 161.0,108.7 161.3,108.9 161.5,109.2 161.6,109.5 161.7,109.7 161.7,110.0 161.7,110.3 161.6,110.5 161.5,110.8 161.3,111.1 161.0,111.3 160.8,111.5 160.4,111.8 160.0,112.0 159.6,112.2 159.2,112.4 158.7,112.6 158.1,112.8 157.5,112.9 156.9,113.0 156.3,113.1 155.7,113.2 155.0,113.3 154.4,113.4 153.7,113.4 153.0,113.4 L151,113.4 Z" fill="#df0000"/>
<path d="M151,106.9 L153.0,106.9 153.6,106.9 154.2,106.9 154.8,107.0 155.4,107.1 156.0,107.1 156.5,107.2 157.1,107.4 157.6,107.5 158.1,107.6 158.5,107.8 158.9,108.0 159.3,108.2 159.7,108.4 159.9,108.6 160.2,108.8 160.4,109.0 160.6,109.3 160.7,109.5 160.8,109.8 160.8,110.0 160.8,110.2 160.7,110.5 160.6,110.7 160.4,111.0 160.2,111.2 159.9,111.4 159.7,111.6 159.3,111.8 158.9,112.0 158.5,112.2 158.1,112.4 157.6,112.5 157.1,112.6 156.5,112.8 156.0,112.9 155.4,112.9 154.8,113.0 154.2,113.1 153.6,113.1 153.0,113.1 L151,113.1 Z" fill="#cf0000"/>
<path d="M151,107.2 L153.0,107.2 153.5,107.2 154.1,107.2 154.6,107.3 155.1,107.3 155.6,107.4 156.1,107.5 156.6,107.6 157.1,107.7 157.5,107.9 157.9,108.0 158.2,108.2 158.6,108.4 158.9,108.5 159.1,108.7 159.4,108.9 159.6,109.1 159.7,109.3 159.8,109.6 159.9,109.8 159.9,110.0 159.9,110.2 159.8,110.4 159.7,110.7 159.6,110.9 159.4,111.1 159.1,111.3 158.9,111.5 158.6,111.6 158.2,111.8 157.9,112.0 157.5,112.1 157.1,112.3 156.6,112.4 156.1,112.5 155.6,112.6 155.1,112.7 154.6,112.7 154.1,112.8 153.5,112.8 153.0,112.8 L151,112.8 Z" fill="#bf0000"/>
<path d="M151,107.5 L153.0,107.5 153.5,107.5 153.9,107.5 154.4,107.6 154.9,107.6 155.3,107.7 155.7,107.8 156.1,107.9 156.5,108.0 156.9,108.1 157.2,108.2 157.6,108.4 157.9,108.5 158.1,108.7 158.3,108.9 158.5,109.0 158.7,109.2 158.8,109.4 158.9,109.6 159.0,109.8 159.0,110.0 159.0,110.2 158.9,110.4 158.8,110.6 158.7,110.8 158.5,111.0 158.3,111.1 158.1,111.3 157.9,111.5 157.6,111.6 157.2,111.8 156.9,111.9 156.5,112.0 156.1,112.1 155.7,112.2 155.3,112.3 154.9,112.4 154.4,112.4 153.9,112.5 153.5,112.5 153.0,112.5 L151,112.5 Z" fill="#af0000"/>
<path d="M151,107.9 L153.0,107.9 153.4,107.9 153.8,108.0 154.2,108.0 154.5,108.0 154.9,108.1 155.3,108.2 155.6,108.2 155.9,108.3 156.2,108.4 156.5,108.5 156.8,108.7 157.0,108.8 157.3,108.9 157.5,109.1 157.6,109.2 157.8,109.4 157.9,109.5 157.9,109.7 158.0,109.8 158.0,110.0 158.0,110.2 157.9,110.3 157.9,110.5 157.8,110.6 157.6,110.8 157.5,110.9 157.3,111.1 157.0,111.2 156.8,111.3 156.5,111.5 156.2,111.6 155.9,111.7 155.6,111.8 155.3,111.8 154.9,111.9 154.5,112.0 154.2,112.0 153.8,112.0 153.4,112.1 153.0,112.1 L151,112.1 Z" fill="#9f0000"/>
<path d="M151,108.4 L153.0,108.4 153.3,108.4 153.6,108.4 153.9,108.4 154.2,108.4 154.5,108.5 154.8,108.5 155.1,108.6 155.4,108.7 155.6,108.8 155.8,108.8 156.0,108.9 156.2,109.0 156.4,109.1 156.6,109.3 156.7,109.4 156.8,109.5 156.9,109.6 157.0,109.7 157.0,109.9 157.0,110.0 157.0,110.1 157.0,110.3 156.9,110.4 156.8,110.5 156.7,110.6 156.6,110.7 156.4,110.9 156.2,111.0 156.0,111.1 155.8,111.2 155.6,111.2 155.4,111.3 155.1,111.4 154.8,111.5 154.5,111.5 154.2,111.6 153.9,111.6 153.6,111.6 153.3,111.6 153.0,111.6 L151,111.6 Z" fill="#8f0000"/>
<path d="M151,108.8 L153.0,108.8 153.2,108.8 153.5,108.8 153.7,108.8 153.9,108.9 154.1,108.9 154.4,108.9 154.6,109.0 154.8,109.0 154.9,109.1 155.1,109.2 155.3,109.2 155.4,109.3 155.6,109.4 155.7,109.5 155.8,109.5 155.9,109.6 155.9,109.7 156.0,109.8 156.0,109.9 156.0,110.0 156.0,110.1 156.0,110.2 155.9,110.3 155.9,110.4 155.8,110.5 155.7,110.5 155.6,110.6 155.4,110.7 155.3,110.8 155.1,110.8 154.9,110.9 154.8,111.0 154.6,111.0 154.4,111.1 154.1,111.1 153.9,111.1 153.7,111.2 153.5,111.2 153.2,111.2 153.0,111.2 L151,111.2 Z" fill="#800000"/>
</g>
<clipPath id="cb"><path d="M154,466.9 H946.5 A6.5,6.5 0 0 1 953,473.4 V540.5 A6.5,6.5 0 0 1 946.5,547.0 H154 Z"/></clipPath><path d="M154,466.9 H946.5 A6.5,6.5 0 0 1 953,473.4 V540.5 A6.5,6.5 0 0 1 946.5,547.0 H154 Z" fill="#00008f"/>
<clipPath id="cbu"><rect x="150" y="464.9" width="810" height="52.5"/></clipPath>
<clipPath id="cbu2"><rect x="150" y="464.9" width="810" height="51.30000000000007"/></clipPath>
<clipPath id="cbd"><rect x="150" y="517.4" width="810" height="31.600000000000023"/></clipPath>
<g clip-path="url(#cb)">
<g clip-path="url(#cbd)">
<ellipse cx="154" cy="517.4" rx="26.00" ry="24.00" fill="#00009f"/>
</g><g clip-path="url(#cbu)">
<path d="M152,433.4 L154.0,433.4 155.7,433.8 158.5,434.9 161.9,436.7 165.8,439.2 170.0,442.4 174.4,446.2 178.9,450.5 183.5,455.3 188.0,460.6 192.4,466.2 196.6,472.1 200.5,478.1 204.2,484.2 207.4,490.2 210.3,496.1 212.6,501.7 214.5,506.9 215.9,511.5 216.7,515.2 217.0,517.4 216.7,519.6 215.9,523.3 214.5,527.9 212.6,533.1 210.3,538.7 207.4,544.6 204.2,550.6 200.5,556.7 196.6,562.7 192.4,568.6 188.0,574.2 183.5,579.5 178.9,584.3 174.4,588.6 170.0,592.4 165.8,595.6 161.9,598.1 158.5,599.9 155.7,601.0 154.0,601.4 L152,601.4 Z" fill="#00009f"/>
<path d="M152,439.4 L154.0,439.4 155.6,439.7 158.3,440.8 161.6,442.5 165.3,444.8 169.3,447.7 173.5,451.3 177.9,455.3 182.2,459.8 186.6,464.7 190.8,469.9 194.8,475.3 198.6,480.9 202.0,486.5 205.2,492.2 207.9,497.6 210.2,502.8 212.0,507.6 213.3,511.9 214.1,515.3 214.3,517.4 214.1,519.5 213.3,522.9 212.0,527.2 210.2,532.0 207.9,537.2 205.2,542.6 202.0,548.3 198.6,553.9 194.8,559.5 190.8,564.9 186.6,570.1 182.2,575.0 177.9,579.5 173.5,583.5 169.3,587.1 165.3,590.0 161.6,592.3 158.3,594.0 155.6,595.1 154.0,595.4 L152,595.4 Z" fill="#0000af"/>
<path d="M152,445.4 L154.0,445.4 155.5,445.7 158.1,446.7 161.2,448.2 164.8,450.4 168.6,453.1 172.7,456.3 176.8,460.1 181.0,464.2 185.1,468.7 189.1,473.5 193.0,478.5 196.6,483.7 199.9,488.9 202.9,494.1 205.5,499.1 207.7,503.9 209.4,508.4 210.7,512.3 211.4,515.5 211.7,517.4 211.4,519.3 210.7,522.5 209.4,526.4 207.7,530.9 205.5,535.7 202.9,540.7 199.9,545.9 196.6,551.1 193.0,556.3 189.1,561.3 185.1,566.1 181.0,570.6 176.8,574.7 172.7,578.5 168.6,581.7 164.8,584.4 161.2,586.6 158.1,588.1 155.5,589.1 154.0,589.4 L152,589.4 Z" fill="#0000bf"/>
<path d="M152,451.4 L154.0,451.4 155.4,451.7 157.9,452.6 160.9,454.0 164.3,456.0 167.9,458.5 171.8,461.4 175.8,464.8 179.7,468.6 183.7,472.8 187.5,477.2 191.2,481.8 194.6,486.5 197.8,491.3 200.6,496.0 203.1,500.7 205.2,505.1 206.8,509.1 208.0,512.7 208.8,515.7 209.0,517.4 208.8,519.1 208.0,522.1 206.8,525.7 205.2,529.7 203.1,534.1 200.6,538.8 197.8,543.5 194.6,548.3 191.2,553.0 187.5,557.6 183.7,562.0 179.7,566.2 175.8,570.0 171.8,573.4 167.9,576.3 164.3,578.8 160.9,580.8 157.9,582.2 155.4,583.1 154.0,583.4 L152,583.4 Z" fill="#0000cf"/>
<path d="M152,455.3 L154.0,455.3 155.4,455.5 157.7,456.4 160.6,457.7 163.8,459.6 167.4,461.9 171.0,464.7 174.8,467.9 178.7,471.5 182.4,475.4 186.1,479.5 189.6,483.9 192.9,488.3 195.9,492.8 198.7,497.3 201.0,501.6 203.0,505.8 204.6,509.6 205.7,513.0 206.4,515.8 206.7,517.4 206.4,519.0 205.7,521.8 204.6,525.2 203.0,529.0 201.0,533.2 198.7,537.5 195.9,542.0 192.9,546.5 189.6,550.9 186.1,555.3 182.4,559.4 178.7,563.3 174.8,566.9 171.0,570.1 167.4,572.9 163.8,575.2 160.6,577.1 157.7,578.4 155.4,579.3 154.0,579.5 L152,579.5 Z" fill="#0000df"/>
<path d="M152,459.1 L154.0,459.1 155.3,459.4 157.6,460.2 160.3,461.4 163.4,463.2 166.8,465.4 170.3,468.0 173.9,471.0 177.6,474.4 181.2,478.0 184.7,481.9 188.0,485.9 191.2,490.1 194.1,494.3 196.7,498.5 199.0,502.6 200.9,506.5 202.4,510.1 203.5,513.3 204.1,515.9 204.3,517.4 204.1,518.9 203.5,521.5 202.4,524.7 200.9,528.3 199.0,532.2 196.7,536.3 194.1,540.5 191.2,544.7 188.0,548.9 184.7,552.9 181.2,556.8 177.6,560.4 173.9,563.8 170.3,566.8 166.8,569.4 163.4,571.6 160.3,573.4 157.6,574.6 155.3,575.4 154.0,575.7 L152,575.7 Z" fill="#0000ef"/>
<path d="M152,463.0 L154.0,463.0 155.3,463.2 157.4,464.0 160.0,465.1 163.0,466.8 166.2,468.8 169.5,471.3 173.0,474.1 176.5,477.2 179.9,480.6 183.3,484.2 186.5,488.0 189.5,491.9 192.2,495.9 194.7,499.8 196.9,503.6 198.7,507.2 200.1,510.6 201.2,513.6 201.8,516.0 202.0,517.4 201.8,518.8 201.2,521.2 200.1,524.2 198.7,527.6 196.9,531.2 194.7,535.0 192.2,538.9 189.5,542.9 186.5,546.8 183.3,550.6 179.9,554.2 176.5,557.6 173.0,560.7 169.5,563.5 166.2,566.0 163.0,568.0 160.0,569.7 157.4,570.8 155.3,571.6 154.0,571.8 L152,571.8 Z" fill="#0000ff"/>
<path d="M152,466.1 L154.0,466.1 155.3,466.3 157.4,467.0 160.0,468.1 162.9,469.6 166.1,471.5 169.4,473.8 172.7,476.5 176.1,479.4 179.5,482.6 182.8,486.0 185.9,489.6 188.8,493.2 191.5,496.9 193.9,500.6 196.0,504.2 197.8,507.7 199.2,510.9 200.2,513.7 200.8,516.0 201.0,517.4 200.8,518.8 200.2,521.1 199.2,523.9 197.8,527.1 196.0,530.6 193.9,534.2 191.5,537.9 188.8,541.6 185.9,545.2 182.8,548.8 179.5,552.2 176.1,555.4 172.7,558.3 169.4,561.0 166.1,563.3 162.9,565.2 160.0,566.7 157.4,567.8 155.3,568.5 154.0,568.7 L152,568.7 Z" fill="#0010ff"/>
<path d="M152,469.2 L154.0,469.2 155.3,469.4 157.4,470.0 160.0,471.1 162.9,472.5 165.9,474.3 169.2,476.4 172.5,478.9 175.8,481.6 179.1,484.6 182.3,487.8 185.3,491.1 188.2,494.5 190.8,498.0 193.1,501.5 195.2,504.9 196.9,508.1 198.2,511.1 199.2,513.8 199.8,516.0 200.0,517.4 199.8,518.8 199.2,521.0 198.2,523.7 196.9,526.7 195.2,529.9 193.1,533.3 190.8,536.8 188.2,540.3 185.3,543.7 182.3,547.0 179.1,550.2 175.8,553.2 172.5,555.9 169.2,558.4 165.9,560.5 162.9,562.3 160.0,563.7 157.4,564.8 155.3,565.4 154.0,565.6 L152,565.6 Z" fill="#0020ff"/>
<path d="M152,472.3 L154.0,472.3 155.3,472.5 157.4,473.1 159.9,474.0 162.8,475.3 165.8,477.0 169.0,479.0 172.2,481.3 175.5,483.8 178.7,486.6 181.8,489.6 184.7,492.7 187.5,495.9 190.0,499.1 192.3,502.4 194.3,505.5 196.0,508.6 197.3,511.4 198.2,514.0 198.8,516.1 199.0,517.4 198.8,518.7 198.2,520.8 197.3,523.4 196.0,526.2 194.3,529.3 192.3,532.4 190.0,535.7 187.5,538.9 184.7,542.1 181.8,545.2 178.7,548.2 175.5,551.0 172.2,553.5 169.0,555.8 165.8,557.8 162.8,559.5 159.9,560.8 157.4,561.7 155.3,562.3 154.0,562.5 L152,562.5 Z" fill="#0030ff"/>
<path d="M152,475.4 L154.0,475.4 155.3,475.6 157.4,476.1 159.9,477.0 162.7,478.2 165.7,479.7 168.8,481.6 172.0,483.7 175.1,486.0 178.3,488.6 181.3,491.4 184.2,494.2 186.8,497.2 189.3,500.2 191.5,503.3 193.4,506.2 195.1,509.1 196.3,511.8 197.3,514.1 197.8,516.1 198.0,517.4 197.8,518.7 197.3,520.7 196.3,523.0 195.1,525.7 193.4,528.6 191.5,531.5 189.3,534.6 186.8,537.6 184.2,540.6 181.3,543.4 178.3,546.2 175.1,548.8 172.0,551.1 168.8,553.2 165.7,555.1 162.7,556.6 159.9,557.8 157.4,558.7 155.3,559.2 154.0,559.4 L152,559.4 Z" fill="#0040ff"/>
<path d="M152,477.6 L154.0,477.6 155.3,477.8 157.4,478.3 159.9,479.1 162.6,480.3 165.6,481.7 168.6,483.5 171.7,485.4 174.8,487.7 177.8,490.1 180.8,492.7 183.6,495.4 186.2,498.2 188.6,501.0 190.7,503.9 192.6,506.7 194.1,509.4 195.4,512.0 196.3,514.3 196.8,516.2 197.0,517.4 196.8,518.6 196.3,520.5 195.4,522.8 194.1,525.4 192.6,528.1 190.7,530.9 188.6,533.8 186.2,536.6 183.6,539.4 180.8,542.1 177.8,544.7 174.8,547.1 171.7,549.4 168.6,551.3 165.6,553.1 162.6,554.5 159.9,555.7 157.4,556.5 155.3,557.0 154.0,557.1 L152,557.1 Z" fill="#0050ff"/>
<path d="M152,479.9 L154.0,479.9 155.3,480.1 157.4,480.5 159.8,481.3 162.5,482.4 165.4,483.7 168.4,485.3 171.4,487.2 174.4,489.3 177.4,491.5 180.3,494.0 183.0,496.5 185.5,499.2 187.8,501.8 189.9,504.5 191.7,507.2 193.2,509.8 194.4,512.2 195.3,514.4 195.8,516.2 196.0,517.4 195.8,518.6 195.3,520.4 194.4,522.6 193.2,525.0 191.7,527.6 189.9,530.3 187.8,533.0 185.5,535.6 183.0,538.3 180.3,540.8 177.4,543.3 174.4,545.5 171.4,547.6 168.4,549.5 165.4,551.1 162.5,552.4 159.8,553.5 157.4,554.3 155.3,554.7 154.0,554.9 L152,554.9 Z" fill="#0060ff"/>
<path d="M152,482.1 L154.0,482.1 155.3,482.3 157.4,482.7 159.8,483.5 162.5,484.4 165.3,485.7 168.2,487.2 171.1,489.0 174.1,490.9 176.9,493.0 179.7,495.3 182.4,497.7 184.8,500.1 187.1,502.7 189.1,505.2 190.9,507.7 192.3,510.1 193.5,512.4 194.3,514.5 194.8,516.2 195.0,517.4 194.8,518.6 194.3,520.3 193.5,522.4 192.3,524.7 190.9,527.1 189.1,529.6 187.1,532.1 184.8,534.7 182.4,537.1 179.7,539.5 176.9,541.8 174.1,543.9 171.1,545.8 168.2,547.6 165.3,549.1 162.5,550.4 159.8,551.3 157.4,552.1 155.3,552.5 154.0,552.6 L152,552.6 Z" fill="#0070ff"/>
<path d="M152,484.4 L154.0,484.4 155.3,484.5 157.4,484.9 159.7,485.6 162.4,486.5 165.1,487.7 168.0,489.1 170.8,490.7 173.7,492.5 176.5,494.5 179.2,496.6 181.8,498.8 184.2,501.2 186.3,503.5 188.3,505.9 190.0,508.2 191.4,510.5 192.5,512.7 193.3,514.6 193.8,516.3 194.0,517.4 193.8,518.5 193.3,520.2 192.5,522.1 191.4,524.3 190.0,526.6 188.3,528.9 186.3,531.3 184.2,533.6 181.8,536.0 179.2,538.2 176.5,540.3 173.7,542.3 170.8,544.1 168.0,545.7 165.1,547.1 162.4,548.3 159.7,549.2 157.4,549.9 155.3,550.3 154.0,550.4 L152,550.4 Z" fill="#0080ff"/>
<path d="M152,485.9 L154.0,485.9 155.4,486.0 157.4,486.4 159.7,487.0 162.3,487.9 165.0,489.0 167.8,490.4 170.6,491.9 173.4,493.6 176.1,495.5 178.7,497.5 181.2,499.6 183.6,501.8 185.7,504.0 187.6,506.3 189.2,508.6 190.6,510.7 191.7,512.8 192.5,514.7 193.0,516.3 193.1,517.4 193.0,518.5 192.5,520.1 191.7,522.0 190.6,524.1 189.2,526.2 187.6,528.5 185.7,530.8 183.6,533.0 181.2,535.2 178.7,537.3 176.1,539.3 173.4,541.2 170.6,542.9 167.8,544.4 165.0,545.8 162.3,546.9 159.7,547.8 157.4,548.4 155.4,548.8 154.0,548.9 L152,548.9 Z" fill="#008fff"/>
<path d="M152,487.4 L154.0,487.4 155.4,487.5 157.4,487.9 159.7,488.5 162.2,489.3 164.9,490.4 167.6,491.6 170.3,493.1 173.1,494.7 175.7,496.5 178.3,498.4 180.7,500.4 183.0,502.5 185.0,504.6 186.9,506.8 188.5,508.9 189.8,511.0 190.9,512.9 191.6,514.8 192.1,516.3 192.2,517.4 192.1,518.5 191.6,520.0 190.9,521.9 189.8,523.8 188.5,525.9 186.9,528.0 185.0,530.2 183.0,532.3 180.7,534.4 178.3,536.4 175.7,538.3 173.1,540.1 170.3,541.7 167.6,543.2 164.9,544.4 162.2,545.5 159.7,546.3 157.4,546.9 155.4,547.3 154.0,547.4 L152,547.4 Z" fill="#009fff"/>
<path d="M152,488.9 L154.0,488.9 155.4,489.0 157.3,489.4 159.6,489.9 162.1,490.7 164.7,491.7 167.4,492.9 170.1,494.2 172.7,495.8 175.3,497.4 177.8,499.2 180.2,501.1 182.4,503.1 184.4,505.2 186.2,507.2 187.7,509.2 189.0,511.2 190.0,513.1 190.8,514.8 191.2,516.4 191.4,517.4 191.2,518.4 190.8,520.0 190.0,521.7 189.0,523.6 187.7,525.6 186.2,527.6 184.4,529.6 182.4,531.7 180.2,533.7 177.8,535.6 175.3,537.4 172.7,539.0 170.1,540.6 167.4,541.9 164.7,543.1 162.1,544.1 159.6,544.9 157.3,545.4 155.4,545.8 154.0,545.9 L152,545.9 Z" fill="#00afff"/>
<path d="M152,490.4 L154.0,490.4 155.4,490.5 157.3,490.8 159.6,491.4 162.0,492.1 164.6,493.0 167.2,494.1 169.8,495.4 172.4,496.9 174.9,498.4 177.3,500.1 179.6,501.9 181.8,503.8 183.7,505.7 185.5,507.7 187.0,509.6 188.2,511.5 189.2,513.3 189.9,514.9 190.4,516.4 190.5,517.4 190.4,518.4 189.9,519.9 189.2,521.5 188.2,523.3 187.0,525.2 185.5,527.1 183.7,529.1 181.8,531.0 179.6,532.9 177.3,534.7 174.9,536.4 172.4,537.9 169.8,539.4 167.2,540.7 164.6,541.8 162.0,542.7 159.6,543.4 157.3,544.0 155.4,544.3 154.0,544.4 L152,544.4 Z" fill="#00bfff"/>
<path d="M152,491.3 L154.0,491.3 155.4,491.4 157.3,491.7 159.6,492.2 162.0,492.9 164.5,493.8 167.0,494.9 169.6,496.1 172.1,497.5 174.6,499.0 177.0,500.7 179.2,502.4 181.3,504.2 183.2,506.0 184.9,507.9 186.3,509.8 187.5,511.6 188.5,513.3 189.2,515.0 189.6,516.4 189.8,517.4 189.6,518.4 189.2,519.8 188.5,521.5 187.5,523.2 186.3,525.0 184.9,526.9 183.2,528.8 181.3,530.6 179.2,532.4 177.0,534.1 174.6,535.8 172.1,537.3 169.6,538.7 167.0,539.9 164.5,541.0 162.0,541.9 159.6,542.6 157.3,543.1 155.4,543.4 154.0,543.5 L152,543.5 Z" fill="#00cfff"/>
<path d="M152,492.2 L154.0,492.2 155.4,492.3 157.3,492.6 159.5,493.1 161.9,493.8 164.4,494.6 166.9,495.6 169.4,496.8 171.8,498.1 174.3,499.6 176.6,501.2 178.8,502.8 180.8,504.6 182.6,506.3 184.3,508.2 185.7,510.0 186.9,511.7 187.8,513.4 188.5,515.0 188.9,516.4 189.1,517.4 188.9,518.4 188.5,519.8 187.8,521.4 186.9,523.1 185.7,524.8 184.3,526.6 182.6,528.5 180.8,530.2 178.8,532.0 176.6,533.6 174.3,535.2 171.8,536.7 169.4,538.0 166.9,539.2 164.4,540.2 161.9,541.0 159.5,541.7 157.3,542.2 155.4,542.5 154.0,542.6 L152,542.6 Z" fill="#00dfff"/>
<path d="M152,493.1 L154.0,493.1 155.4,493.2 157.3,493.5 159.5,493.9 161.8,494.6 164.2,495.4 166.7,496.4 169.2,497.5 171.6,498.8 173.9,500.2 176.2,501.7 178.3,503.3 180.3,505.0 182.1,506.7 183.7,508.4 185.1,510.2 186.2,511.9 187.1,513.5 187.8,515.1 188.2,516.4 188.3,517.4 188.2,518.4 187.8,519.7 187.1,521.3 186.2,522.9 185.1,524.6 183.7,526.4 182.1,528.1 180.3,529.8 178.3,531.5 176.2,533.1 173.9,534.6 171.6,536.0 169.2,537.3 166.7,538.4 164.2,539.4 161.8,540.2 159.5,540.9 157.3,541.3 155.4,541.6 154.0,541.7 L152,541.7 Z" fill="#00efff"/>
<path d="M152,494.0 L154.0,494.0 155.4,494.1 157.3,494.4 159.5,494.8 161.7,495.4 164.1,496.2 166.5,497.1 168.9,498.2 171.3,499.4 173.6,500.8 175.8,502.2 177.9,503.8 179.8,505.4 181.5,507.0 183.1,508.7 184.4,510.4 185.6,512.0 186.4,513.6 187.1,515.1 187.5,516.4 187.6,517.4 187.5,518.4 187.1,519.7 186.4,521.2 185.6,522.8 184.4,524.4 183.1,526.1 181.5,527.8 179.8,529.4 177.9,531.0 175.8,532.6 173.6,534.0 171.3,535.4 168.9,536.6 166.5,537.7 164.1,538.6 161.7,539.4 159.5,540.0 157.3,540.4 155.4,540.7 154.0,540.8 L152,540.8 Z" fill="#00ffff"/>
</g><g clip-path="url(#cbu2)">
<path d="M152,495.8 L154.0,495.8 155.6,495.9 157.6,496.1 159.7,496.4 161.9,496.8 164.2,497.4 166.4,498.1 168.7,498.9 170.9,499.8 173.0,500.8 175.0,501.8 176.8,503.0 178.5,504.2 180.1,505.4 181.5,506.7 182.7,508.0 183.7,509.3 184.5,510.5 185.0,511.8 185.4,512.9 185.5,513.8 185.4,514.7 185.0,515.8 184.5,517.1 183.7,518.3 182.7,519.6 181.5,520.9 180.1,522.2 178.5,523.4 176.8,524.6 175.0,525.8 173.0,526.8 170.9,527.8 168.7,528.7 166.4,529.5 164.2,530.2 161.9,530.8 159.7,531.2 157.6,531.5 155.6,531.7 154.0,531.8 L152,531.8 Z" fill="#10ffef"/>
<path d="M152,496.5 L154.0,496.5 155.6,496.6 157.5,496.8 159.7,497.1 161.8,497.5 164.1,498.0 166.3,498.7 168.5,499.4 170.6,500.3 172.6,501.2 174.6,502.3 176.4,503.4 178.1,504.5 179.6,505.7 181.0,506.9 182.1,508.2 183.1,509.4 183.9,510.6 184.4,511.8 184.7,512.9 184.9,513.8 184.7,514.7 184.4,515.8 183.9,517.0 183.1,518.2 182.1,519.4 181.0,520.7 179.6,521.9 178.1,523.1 176.4,524.2 174.6,525.3 172.6,526.4 170.6,527.3 168.5,528.2 166.3,528.9 164.1,529.6 161.8,530.1 159.7,530.5 157.5,530.8 155.6,531.0 154.0,531.1 L152,531.1 Z" fill="#20ffdf"/>
<path d="M152,497.2 L154.0,497.2 155.6,497.3 157.5,497.5 159.6,497.8 161.8,498.2 163.9,498.7 166.1,499.3 168.3,500.0 170.3,500.8 172.3,501.7 174.2,502.7 176.0,503.7 177.6,504.8 179.1,506.0 180.4,507.2 181.6,508.3 182.5,509.5 183.3,510.7 183.8,511.9 184.1,512.9 184.2,513.8 184.1,514.7 183.8,515.7 183.3,516.9 182.5,518.1 181.6,519.3 180.4,520.4 179.1,521.6 177.6,522.8 176.0,523.9 174.2,524.9 172.3,525.9 170.3,526.8 168.3,527.6 166.1,528.3 163.9,528.9 161.8,529.4 159.6,529.8 157.5,530.1 155.6,530.3 154.0,530.4 L152,530.4 Z" fill="#30ffcf"/>
<path d="M152,497.9 L154.0,497.9 155.6,498.0 157.5,498.2 159.6,498.4 161.7,498.8 163.8,499.3 165.9,499.9 168.0,500.6 170.1,501.4 172.0,502.2 173.9,503.1 175.6,504.1 177.2,505.2 178.6,506.3 179.9,507.4 181.0,508.5 181.9,509.7 182.6,510.8 183.2,511.9 183.5,512.9 183.6,513.8 183.5,514.7 183.2,515.7 182.6,516.8 181.9,517.9 181.0,519.1 179.9,520.2 178.6,521.3 177.2,522.4 175.6,523.5 173.9,524.5 172.0,525.4 170.1,526.2 168.0,527.0 165.9,527.7 163.8,528.3 161.7,528.8 159.6,529.2 157.5,529.4 155.6,529.6 154.0,529.7 L152,529.7 Z" fill="#40ffbf"/>
<path d="M152,498.7 L154.0,498.7 155.6,498.7 157.5,498.9 159.5,499.1 161.6,499.5 163.7,500.0 165.8,500.5 167.8,501.2 169.8,501.9 171.7,502.7 173.5,503.6 175.2,504.5 176.7,505.5 178.1,506.6 179.4,507.6 180.4,508.7 181.3,509.8 182.0,510.9 182.5,512.0 182.8,513.0 182.9,513.8 182.8,514.6 182.5,515.6 182.0,516.7 181.3,517.8 180.4,518.9 179.4,520.0 178.1,521.0 176.7,522.1 175.2,523.1 173.5,524.0 171.7,524.9 169.8,525.7 167.8,526.4 165.8,527.1 163.7,527.6 161.6,528.1 159.5,528.5 157.5,528.7 155.6,528.9 154.0,528.9 L152,528.9 Z" fill="#50ffaf"/>
<path d="M152,499.4 L154.0,499.4 155.6,499.4 157.5,499.6 159.5,499.8 161.5,500.2 163.6,500.6 165.6,501.1 167.6,501.7 169.5,502.4 171.4,503.2 173.1,504.0 174.8,504.9 176.3,505.9 177.6,506.9 178.8,507.9 179.9,508.9 180.7,510.0 181.4,511.0 181.9,512.0 182.2,513.0 182.3,513.8 182.2,514.6 181.9,515.6 181.4,516.6 180.7,517.6 179.9,518.7 178.8,519.7 177.6,520.7 176.3,521.7 174.8,522.7 173.1,523.6 171.4,524.4 169.5,525.2 167.6,525.9 165.6,526.5 163.6,527.0 161.5,527.4 159.5,527.8 157.5,528.0 155.6,528.2 154.0,528.2 L152,528.2 Z" fill="#60ff9f"/>
<path d="M152,500.1 L154.0,500.1 155.6,500.1 157.5,500.3 159.4,500.5 161.4,500.8 163.4,501.2 165.4,501.7 167.4,502.3 169.2,503.0 171.0,503.7 172.8,504.5 174.3,505.3 175.8,506.2 177.1,507.2 178.3,508.1 179.3,509.1 180.1,510.1 180.8,511.1 181.3,512.1 181.5,513.0 181.6,513.8 181.5,514.6 181.3,515.5 180.8,516.5 180.1,517.5 179.3,518.5 178.3,519.5 177.1,520.4 175.8,521.4 174.3,522.3 172.8,523.1 171.0,523.9 169.2,524.6 167.4,525.3 165.4,525.9 163.4,526.4 161.4,526.8 159.4,527.1 157.5,527.3 155.6,527.5 154.0,527.5 L152,527.5 Z" fill="#70ff8f"/>
<path d="M152,500.8 L154.0,500.8 155.6,500.8 157.4,501.0 159.4,501.2 161.3,501.5 163.3,501.9 165.2,502.4 167.1,502.9 169.0,503.5 170.7,504.2 172.4,505.0 173.9,505.8 175.3,506.6 176.6,507.5 177.8,508.4 178.7,509.3 179.5,510.3 180.2,511.2 180.6,512.1 180.9,513.0 181.0,513.8 180.9,514.6 180.6,515.5 180.2,516.4 179.5,517.3 178.7,518.3 177.8,519.2 176.6,520.1 175.3,521.0 173.9,521.8 172.4,522.6 170.7,523.4 169.0,524.1 167.1,524.7 165.2,525.2 163.3,525.7 161.3,526.1 159.4,526.4 157.4,526.6 155.6,526.8 154.0,526.8 L152,526.8 Z" fill="#80ff80"/>
<path d="M152,501.3 L154.0,501.3 155.6,501.3 157.5,501.5 159.4,501.7 161.3,502.0 163.2,502.3 165.1,502.8 167.0,503.3 168.8,503.9 170.5,504.5 172.1,505.3 173.6,506.0 175.0,506.8 176.2,507.7 177.3,508.5 178.3,509.4 179.0,510.3 179.7,511.3 180.1,512.2 180.4,513.0 180.4,513.8 180.4,514.6 180.1,515.4 179.7,516.3 179.0,517.3 178.3,518.2 177.3,519.1 176.2,519.9 175.0,520.8 173.6,521.6 172.1,522.3 170.5,523.1 168.8,523.7 167.0,524.3 165.1,524.8 163.2,525.3 161.3,525.6 159.4,525.9 157.5,526.1 155.6,526.3 154.0,526.3 L152,526.3 Z" fill="#8fff70"/>
<path d="M152,501.8 L154.0,501.8 155.7,501.8 157.5,502.0 159.4,502.2 161.3,502.4 163.2,502.8 165.0,503.2 166.8,503.7 168.6,504.3 170.2,504.9 171.8,505.5 173.3,506.3 174.6,507.0 175.8,507.9 176.9,508.7 177.8,509.6 178.5,510.4 179.1,511.3 179.6,512.2 179.8,513.0 179.9,513.8 179.8,514.6 179.6,515.4 179.1,516.3 178.5,517.2 177.8,518.0 176.9,518.9 175.8,519.7 174.6,520.6 173.3,521.3 171.8,522.1 170.2,522.7 168.6,523.3 166.8,523.9 165.0,524.4 163.2,524.8 161.3,525.2 159.4,525.4 157.5,525.6 155.7,525.8 154.0,525.8 L152,525.8 Z" fill="#9fff60"/>
<path d="M152,502.3 L154.0,502.3 155.7,502.3 157.5,502.5 159.4,502.6 161.2,502.9 163.1,503.2 164.9,503.6 166.7,504.1 168.4,504.6 170.0,505.2 171.5,505.9 172.9,506.5 174.2,507.3 175.4,508.0 176.4,508.8 177.3,509.7 178.0,510.5 178.6,511.4 179.0,512.2 179.3,513.0 179.3,513.8 179.3,514.6 179.0,515.4 178.6,516.2 178.0,517.1 177.3,517.9 176.4,518.8 175.4,519.6 174.2,520.3 172.9,521.1 171.5,521.7 170.0,522.4 168.4,523.0 166.7,523.5 164.9,524.0 163.1,524.4 161.2,524.7 159.4,525.0 157.5,525.1 155.7,525.3 154.0,525.3 L152,525.3 Z" fill="#afff50"/>
<path d="M152,502.8 L154.0,502.8 155.7,502.8 157.5,502.9 159.4,503.1 161.2,503.4 163.0,503.7 164.8,504.1 166.5,504.5 168.2,505.0 169.7,505.6 171.2,506.2 172.6,506.8 173.8,507.5 175.0,508.2 176.0,509.0 176.8,509.8 177.5,510.6 178.1,511.4 178.5,512.2 178.7,513.0 178.8,513.8 178.7,514.6 178.5,515.4 178.1,516.2 177.5,517.0 176.8,517.8 176.0,518.6 175.0,519.4 173.8,520.1 172.6,520.8 171.2,521.4 169.7,522.0 168.2,522.6 166.5,523.1 164.8,523.5 163.0,523.9 161.2,524.2 159.4,524.5 157.5,524.7 155.7,524.8 154.0,524.8 L152,524.8 Z" fill="#bfff40"/>
<path d="M152,503.3 L154.0,503.3 155.7,503.3 157.5,503.4 159.3,503.6 161.2,503.8 162.9,504.1 164.7,504.5 166.4,504.9 168.0,505.4 169.5,505.9 170.9,506.5 172.2,507.1 173.5,507.8 174.5,508.5 175.5,509.2 176.3,509.9 177.0,510.7 177.6,511.5 177.9,512.3 178.2,513.1 178.2,513.8 178.2,514.5 177.9,515.3 177.6,516.1 177.0,516.9 176.3,517.7 175.5,518.4 174.5,519.1 173.5,519.8 172.2,520.5 170.9,521.1 169.5,521.7 168.0,522.2 166.4,522.7 164.7,523.1 162.9,523.5 161.2,523.8 159.3,524.0 157.5,524.2 155.7,524.3 154.0,524.3 L152,524.3 Z" fill="#cfff30"/>
<path d="M152,503.8 L154.0,503.8 155.7,503.8 157.5,503.9 159.3,504.1 161.1,504.3 162.8,504.6 164.5,504.9 166.2,505.3 167.7,505.8 169.2,506.2 170.6,506.8 171.9,507.4 173.1,508.0 174.1,508.7 175.1,509.4 175.9,510.1 176.5,510.8 177.0,511.6 177.4,512.3 177.6,513.1 177.7,513.8 177.6,514.5 177.4,515.3 177.0,516.0 176.5,516.8 175.9,517.5 175.1,518.2 174.1,518.9 173.1,519.6 171.9,520.2 170.6,520.8 169.2,521.4 167.7,521.8 166.2,522.3 164.5,522.7 162.8,523.0 161.1,523.3 159.3,523.5 157.5,523.7 155.7,523.8 154.0,523.8 L152,523.8 Z" fill="#dfff20"/>
<path d="M152,504.3 L154.0,504.3 155.8,504.3 157.5,504.4 159.3,504.6 161.0,504.8 162.8,505.0 164.4,505.3 166.0,505.7 167.5,506.1 169.0,506.6 170.3,507.1 171.5,507.7 172.7,508.3 173.7,508.9 174.6,509.5 175.4,510.2 176.0,510.9 176.5,511.6 176.9,512.3 177.1,513.1 177.2,513.8 177.1,514.5 176.9,515.3 176.5,516.0 176.0,516.7 175.4,517.4 174.6,518.1 173.7,518.7 172.7,519.3 171.5,519.9 170.3,520.5 169.0,521.0 167.5,521.5 166.0,521.9 164.4,522.3 162.8,522.6 161.0,522.8 159.3,523.0 157.5,523.2 155.8,523.3 154.0,523.3 L152,523.3 Z" fill="#efff10"/>
<path d="M152,504.8 L154.0,504.8 155.8,504.8 157.5,504.9 159.3,505.0 161.0,505.2 162.6,505.5 164.3,505.8 165.8,506.1 167.3,506.5 168.7,507.0 170.0,507.4 171.2,508.0 172.3,508.5 173.3,509.1 174.1,509.7 174.9,510.4 175.5,511.0 176.0,511.7 176.3,512.4 176.5,513.1 176.6,513.8 176.5,514.5 176.3,515.2 176.0,515.9 175.5,516.6 174.9,517.2 174.1,517.9 173.3,518.5 172.3,519.1 171.2,519.6 170.0,520.2 168.7,520.6 167.3,521.1 165.8,521.5 164.3,521.8 162.6,522.1 161.0,522.4 159.3,522.6 157.5,522.7 155.8,522.8 154.0,522.8 L152,522.8 Z" fill="#ffff00"/>
<path d="M152,505.0 L154.0,505.0 155.7,505.1 157.5,505.2 159.2,505.3 160.9,505.5 162.5,505.7 164.1,506.0 165.6,506.3 167.1,506.7 168.5,507.1 169.8,507.6 170.9,508.1 172.0,508.7 173.0,509.2 173.8,509.8 174.6,510.5 175.2,511.1 175.7,511.8 176.0,512.4 176.2,513.1 176.3,513.8 176.2,514.5 176.0,515.2 175.7,515.8 175.2,516.5 174.6,517.1 173.8,517.8 173.0,518.4 172.0,518.9 170.9,519.5 169.8,520.0 168.5,520.5 167.1,520.9 165.6,521.3 164.1,521.6 162.5,521.9 160.9,522.1 159.2,522.3 157.5,522.4 155.7,522.5 154.0,522.5 L152,522.5 Z" fill="#ffef00"/>
<path d="M152,505.3 L154.0,505.3 155.7,505.3 157.4,505.4 159.1,505.5 160.8,505.7 162.4,505.9 164.0,506.2 165.5,506.6 166.9,506.9 168.3,507.3 169.5,507.8 170.7,508.3 171.8,508.8 172.7,509.4 173.6,509.9 174.3,510.5 174.9,511.2 175.3,511.8 175.7,512.5 175.9,513.1 175.9,513.8 175.9,514.5 175.7,515.1 175.3,515.8 174.9,516.4 174.3,517.1 173.6,517.7 172.7,518.2 171.8,518.8 170.7,519.3 169.5,519.8 168.3,520.3 166.9,520.7 165.5,521.0 164.0,521.4 162.4,521.7 160.8,521.9 159.1,522.1 157.4,522.2 155.7,522.3 154.0,522.3 L152,522.3 Z" fill="#ffdf00"/>
<path d="M152,505.5 L154.0,505.5 155.7,505.6 157.4,505.7 159.0,505.8 160.7,506.0 162.3,506.2 163.8,506.4 165.3,506.8 166.7,507.1 168.0,507.5 169.3,508.0 170.4,508.4 171.5,509.0 172.4,509.5 173.3,510.1 174.0,510.6 174.6,511.3 175.0,511.9 175.4,512.5 175.6,513.2 175.6,513.8 175.6,514.4 175.4,515.1 175.0,515.7 174.6,516.3 174.0,517.0 173.3,517.5 172.4,518.1 171.5,518.6 170.4,519.2 169.3,519.6 168.0,520.1 166.7,520.5 165.3,520.8 163.8,521.2 162.3,521.4 160.7,521.6 159.0,521.8 157.4,521.9 155.7,522.0 154.0,522.0 L152,522.0 Z" fill="#ffcf00"/>
<path d="M152,505.8 L154.0,505.8 155.7,505.8 157.3,505.9 159.0,506.0 160.6,506.2 162.2,506.4 163.7,506.7 165.1,507.0 166.5,507.3 167.8,507.7 169.1,508.1 170.2,508.6 171.2,509.1 172.2,509.6 173.0,510.2 173.7,510.7 174.3,511.3 174.7,511.9 175.0,512.5 175.2,513.2 175.3,513.8 175.2,514.4 175.0,515.1 174.7,515.7 174.3,516.3 173.7,516.9 173.0,517.4 172.2,518.0 171.2,518.5 170.2,519.0 169.1,519.5 167.8,519.9 166.5,520.3 165.1,520.6 163.7,520.9 162.2,521.2 160.6,521.4 159.0,521.6 157.3,521.7 155.7,521.8 154.0,521.8 L152,521.8 Z" fill="#ffbf00"/>
<path d="M152,506.0 L154.0,506.0 155.6,506.1 157.3,506.1 158.9,506.3 160.5,506.4 162.0,506.6 163.5,506.9 165.0,507.2 166.3,507.5 167.6,507.9 168.8,508.3 169.9,508.8 171.0,509.2 171.9,509.8 172.7,510.3 173.4,510.8 173.9,511.4 174.4,512.0 174.7,512.6 174.9,513.2 175.0,513.8 174.9,514.4 174.7,515.0 174.4,515.6 173.9,516.2 173.4,516.8 172.7,517.3 171.9,517.8 171.0,518.4 169.9,518.8 168.8,519.3 167.6,519.7 166.3,520.1 165.0,520.4 163.5,520.7 162.0,521.0 160.5,521.2 158.9,521.3 157.3,521.5 155.6,521.5 154.0,521.5 L152,521.5 Z" fill="#ffaf00"/>
<path d="M152,506.3 L154.0,506.3 155.6,506.3 157.2,506.4 158.8,506.5 160.4,506.7 161.9,506.9 163.4,507.1 164.8,507.4 166.1,507.7 167.4,508.1 168.6,508.5 169.7,508.9 170.7,509.4 171.6,509.9 172.4,510.4 173.1,510.9 173.6,511.5 174.1,512.0 174.4,512.6 174.6,513.2 174.7,513.8 174.6,514.4 174.4,515.0 174.1,515.6 173.6,516.1 173.1,516.7 172.4,517.2 171.6,517.7 170.7,518.2 169.7,518.7 168.6,519.1 167.4,519.5 166.1,519.9 164.8,520.2 163.4,520.5 161.9,520.7 160.4,520.9 158.8,521.1 157.2,521.2 155.6,521.3 154.0,521.3 L152,521.3 Z" fill="#ff9f00"/>
<path d="M152,506.5 L154.0,506.5 155.6,506.6 157.2,506.6 158.7,506.8 160.3,506.9 161.8,507.1 163.2,507.3 164.6,507.6 165.9,507.9 167.2,508.3 168.4,508.7 169.5,509.1 170.4,509.5 171.3,510.0 172.1,510.5 172.8,511.0 173.3,511.6 173.8,512.1 174.1,512.7 174.3,513.2 174.3,513.8 174.3,514.4 174.1,514.9 173.8,515.5 173.3,516.0 172.8,516.6 172.1,517.1 171.3,517.6 170.4,518.1 169.5,518.5 168.4,518.9 167.2,519.3 165.9,519.7 164.6,520.0 163.2,520.3 161.8,520.5 160.3,520.7 158.7,520.8 157.2,521.0 155.6,521.0 154.0,521.0 L152,521.0 Z" fill="#ff8f00"/>
<path d="M152,506.8 L154.0,506.8 155.6,506.8 157.1,506.9 158.7,507.0 160.2,507.1 161.7,507.3 163.1,507.6 164.4,507.8 165.8,508.1 167.0,508.5 168.1,508.9 169.2,509.3 170.2,509.7 171.1,510.1 171.8,510.6 172.5,511.1 173.0,511.6 173.4,512.2 173.8,512.7 173.9,513.3 174.0,513.8 173.9,514.3 173.8,514.9 173.4,515.4 173.0,516.0 172.5,516.5 171.8,517.0 171.1,517.5 170.2,517.9 169.2,518.3 168.1,518.7 167.0,519.1 165.8,519.5 164.4,519.8 163.1,520.0 161.7,520.3 160.2,520.5 158.7,520.6 157.1,520.7 155.6,520.8 154.0,520.8 L152,520.8 Z" fill="#ff8000"/>
<path d="M152,507.0 L154.0,507.0 155.5,507.0 157.1,507.1 158.6,507.2 160.1,507.3 161.5,507.5 162.9,507.8 164.3,508.0 165.5,508.3 166.7,508.6 167.9,509.0 168.9,509.4 169.9,509.8 170.7,510.3 171.5,510.7 172.1,511.2 172.7,511.7 173.1,512.2 173.4,512.7 173.6,513.3 173.6,513.8 173.6,514.3 173.4,514.9 173.1,515.4 172.7,515.9 172.1,516.4 171.5,516.9 170.7,517.3 169.9,517.8 168.9,518.2 167.9,518.6 166.7,519.0 165.5,519.3 164.3,519.6 162.9,519.8 161.5,520.1 160.1,520.3 158.6,520.4 157.1,520.5 155.5,520.6 154.0,520.6 L152,520.6 Z" fill="#ff7000"/>
<path d="M152,507.2 L154.0,507.2 155.5,507.2 157.0,507.3 158.5,507.4 159.9,507.5 161.4,507.7 162.7,507.9 164.1,508.2 165.3,508.5 166.5,508.8 167.6,509.2 168.6,509.5 169.6,509.9 170.4,510.4 171.2,510.8 171.8,511.3 172.3,511.8 172.7,512.3 173.0,512.8 173.2,513.3 173.2,513.8 173.2,514.3 173.0,514.8 172.7,515.3 172.3,515.8 171.8,516.3 171.2,516.8 170.4,517.2 169.6,517.7 168.6,518.1 167.6,518.4 166.5,518.8 165.3,519.1 164.1,519.4 162.7,519.7 161.4,519.9 159.9,520.1 158.5,520.2 157.0,520.3 155.5,520.4 154.0,520.4 L152,520.4 Z" fill="#ff6000"/>
<path d="M152,507.4 L154.0,507.4 155.5,507.5 157.0,507.5 158.4,507.6 159.8,507.7 161.2,507.9 162.6,508.1 163.9,508.4 165.1,508.7 166.3,509.0 167.3,509.3 168.4,509.7 169.3,510.1 170.1,510.5 170.8,510.9 171.4,511.4 172.0,511.8 172.4,512.3 172.6,512.8 172.8,513.3 172.9,513.8 172.8,514.3 172.6,514.8 172.4,515.3 172.0,515.8 171.4,516.2 170.8,516.7 170.1,517.1 169.3,517.5 168.4,517.9 167.3,518.3 166.3,518.6 165.1,518.9 163.9,519.2 162.6,519.5 161.2,519.7 159.8,519.9 158.4,520.0 157.0,520.1 155.5,520.1 154.0,520.2 L152,520.2 Z" fill="#ff5000"/>
<path d="M152,507.6 L154.0,507.6 155.5,507.7 156.9,507.7 158.3,507.8 159.7,508.0 161.1,508.1 162.4,508.3 163.7,508.6 164.9,508.8 166.0,509.1 167.1,509.5 168.1,509.8 169.0,510.2 169.8,510.6 170.5,511.0 171.1,511.4 171.6,511.9 172.0,512.4 172.3,512.8 172.4,513.3 172.5,513.8 172.4,514.3 172.3,514.8 172.0,515.2 171.6,515.7 171.1,516.2 170.5,516.6 169.8,517.0 169.0,517.4 168.1,517.8 167.1,518.1 166.0,518.5 164.9,518.8 163.7,519.0 162.4,519.3 161.1,519.5 159.7,519.6 158.3,519.8 156.9,519.9 155.5,519.9 154.0,519.9 L152,519.9 Z" fill="#ff4000"/>
<path d="M152,507.9 L154.0,507.9 155.4,507.9 156.8,507.9 158.2,508.0 159.6,508.2 160.9,508.3 162.2,508.5 163.5,508.7 164.7,509.0 165.8,509.3 166.8,509.6 167.8,509.9 168.7,510.3 169.5,510.7 170.1,511.1 170.7,511.5 171.2,512.0 171.6,512.4 171.9,512.9 172.1,513.3 172.1,513.8 172.1,514.3 171.9,514.7 171.6,515.2 171.2,515.6 170.7,516.1 170.1,516.5 169.5,516.9 168.7,517.3 167.8,517.7 166.8,518.0 165.8,518.3 164.7,518.6 163.5,518.9 162.2,519.1 160.9,519.3 159.6,519.4 158.2,519.6 156.8,519.7 155.4,519.7 154.0,519.7 L152,519.7 Z" fill="#ff3000"/>
<path d="M152,508.1 L154.0,508.1 155.4,508.1 156.8,508.1 158.1,508.2 159.5,508.4 160.8,508.5 162.1,508.7 163.3,508.9 164.4,509.2 165.5,509.4 166.6,509.8 167.5,510.1 168.4,510.4 169.1,510.8 169.8,511.2 170.4,511.6 170.9,512.0 171.3,512.5 171.5,512.9 171.7,513.4 171.8,513.8 171.7,514.2 171.5,514.7 171.3,515.1 170.9,515.6 170.4,516.0 169.8,516.4 169.1,516.8 168.4,517.2 167.5,517.5 166.6,517.8 165.5,518.2 164.4,518.4 163.3,518.7 162.1,518.9 160.8,519.1 159.5,519.2 158.1,519.4 156.8,519.5 155.4,519.5 154.0,519.5 L152,519.5 Z" fill="#ff2000"/>
<path d="M152,508.3 L154.0,508.3 155.4,508.3 156.7,508.4 158.1,508.4 159.4,508.6 160.6,508.7 161.9,508.9 163.1,509.1 164.2,509.3 165.3,509.6 166.3,509.9 167.2,510.2 168.1,510.6 168.8,510.9 169.5,511.3 170.1,511.7 170.5,512.1 170.9,512.5 171.2,512.9 171.3,513.4 171.4,513.8 171.3,514.2 171.2,514.7 170.9,515.1 170.5,515.5 170.1,515.9 169.5,516.3 168.8,516.7 168.1,517.0 167.2,517.4 166.3,517.7 165.3,518.0 164.2,518.3 163.1,518.5 161.9,518.7 160.6,518.9 159.4,519.0 158.1,519.2 156.7,519.2 155.4,519.3 154.0,519.3 L152,519.3 Z" fill="#ff1000"/>
<path d="M152,508.5 L154.0,508.5 155.3,508.5 156.7,508.6 158.0,508.6 159.3,508.8 160.5,508.9 161.7,509.1 162.9,509.3 164.0,509.5 165.0,509.8 166.0,510.1 166.9,510.4 167.8,510.7 168.5,511.0 169.1,511.4 169.7,511.8 170.2,512.2 170.5,512.6 170.8,513.0 170.9,513.4 171.0,513.8 170.9,514.2 170.8,514.6 170.5,515.0 170.2,515.4 169.7,515.8 169.1,516.2 168.5,516.6 167.8,516.9 166.9,517.2 166.0,517.5 165.0,517.8 164.0,518.1 162.9,518.3 161.7,518.5 160.5,518.7 159.3,518.8 158.0,519.0 156.7,519.0 155.3,519.1 154.0,519.1 L152,519.1 Z" fill="#ff0000"/>
<path d="M152,508.9 L154.0,508.9 155.3,508.9 156.5,508.9 157.7,509.0 158.9,509.1 160.1,509.2 161.3,509.4 162.4,509.6 163.4,509.8 164.4,510.0 165.3,510.3 166.2,510.6 166.9,510.9 167.6,511.2 168.3,511.6 168.8,511.9 169.2,512.3 169.6,512.6 169.8,513.0 170.0,513.4 170.0,513.8 170.0,514.2 169.8,514.6 169.6,515.0 169.2,515.3 168.8,515.7 168.3,516.0 167.6,516.4 166.9,516.7 166.2,517.0 165.3,517.3 164.4,517.6 163.4,517.8 162.4,518.0 161.3,518.2 160.1,518.4 158.9,518.5 157.7,518.6 156.5,518.7 155.3,518.7 154.0,518.7 L152,518.7 Z" fill="#ef0000"/>
<path d="M152,509.2 L154.0,509.2 155.2,509.2 156.3,509.3 157.5,509.3 158.6,509.4 159.7,509.6 160.8,509.7 161.8,509.9 162.8,510.1 163.7,510.3 164.6,510.6 165.4,510.8 166.1,511.1 166.8,511.4 167.4,511.7 167.9,512.0 168.3,512.4 168.6,512.7 168.8,513.1 169.0,513.4 169.0,513.8 169.0,514.2 168.8,514.5 168.6,514.9 168.3,515.2 167.9,515.6 167.4,515.9 166.8,516.2 166.1,516.5 165.4,516.8 164.6,517.0 163.7,517.3 162.8,517.5 161.8,517.7 160.8,517.9 159.7,518.0 158.6,518.2 157.5,518.3 156.3,518.3 155.2,518.4 154.0,518.4 L152,518.4 Z" fill="#df0000"/>
<path d="M152,509.6 L154.0,509.6 155.1,509.6 156.2,509.6 157.3,509.7 158.3,509.8 159.4,509.9 160.4,510.0 161.3,510.2 162.2,510.4 163.1,510.6 163.9,510.8 164.6,511.1 165.3,511.3 165.9,511.6 166.5,511.9 166.9,512.2 167.3,512.5 167.6,512.8 167.8,513.1 168.0,513.5 168.0,513.8 168.0,514.1 167.8,514.5 167.6,514.8 167.3,515.1 166.9,515.4 166.5,515.7 165.9,516.0 165.3,516.3 164.6,516.5 163.9,516.8 163.1,517.0 162.2,517.2 161.3,517.4 160.4,517.6 159.4,517.7 158.3,517.8 157.3,517.9 156.2,518.0 155.1,518.0 154.0,518.0 L152,518.0 Z" fill="#cf0000"/>
<path d="M152,509.9 L154.0,509.9 155.0,510.0 156.0,510.0 157.0,510.0 158.0,510.1 159.0,510.2 159.9,510.4 160.8,510.5 161.6,510.7 162.4,510.9 163.2,511.1 163.9,511.3 164.5,511.5 165.1,511.8 165.6,512.0 166.0,512.3 166.4,512.6 166.6,512.9 166.8,513.2 167.0,513.5 167.0,513.8 167.0,514.1 166.8,514.4 166.6,514.7 166.4,515.0 166.0,515.3 165.6,515.6 165.1,515.8 164.5,516.1 163.9,516.3 163.2,516.5 162.4,516.7 161.6,516.9 160.8,517.1 159.9,517.2 159.0,517.4 158.0,517.5 157.0,517.6 156.0,517.6 155.0,517.6 154.0,517.7 L152,517.7 Z" fill="#bf0000"/>
<path d="M152,510.3 L154.0,510.3 154.9,510.3 155.9,510.3 156.8,510.4 157.7,510.5 158.6,510.6 159.4,510.7 160.3,510.8 161.1,511.0 161.8,511.1 162.5,511.3 163.1,511.5 163.7,511.7 164.2,512.0 164.7,512.2 165.1,512.5 165.4,512.7 165.7,513.0 165.9,513.3 166.0,513.5 166.0,513.8 166.0,514.1 165.9,514.3 165.7,514.6 165.4,514.9 165.1,515.1 164.7,515.4 164.2,515.6 163.7,515.9 163.1,516.1 162.5,516.3 161.8,516.5 161.1,516.6 160.3,516.8 159.4,516.9 158.6,517.0 157.7,517.1 156.8,517.2 155.9,517.3 154.9,517.3 154.0,517.3 L152,517.3 Z" fill="#af0000"/>
<path d="M152,510.8 L154.0,510.8 154.8,510.8 155.6,510.8 156.4,510.9 157.2,510.9 158.0,511.0 158.7,511.1 159.4,511.2 160.1,511.4 160.7,511.5 161.3,511.7 161.9,511.9 162.4,512.0 162.8,512.2 163.2,512.4 163.5,512.7 163.8,512.9 164.0,513.1 164.2,513.3 164.3,513.6 164.3,513.8 164.3,514.0 164.2,514.3 164.0,514.5 163.8,514.7 163.5,514.9 163.2,515.2 162.8,515.4 162.4,515.6 161.9,515.7 161.3,515.9 160.7,516.1 160.1,516.2 159.4,516.4 158.7,516.5 158.0,516.6 157.2,516.7 156.4,516.7 155.6,516.8 154.8,516.8 154.0,516.8 L152,516.8 Z" fill="#9f0000"/>
<path d="M152,511.3 L154.0,511.3 154.7,511.3 155.4,511.3 156.0,511.4 156.7,511.4 157.3,511.5 157.9,511.6 158.5,511.7 159.1,511.8 159.6,511.9 160.1,512.0 160.6,512.2 161.0,512.3 161.4,512.5 161.7,512.7 162.0,512.8 162.2,513.0 162.4,513.2 162.6,513.4 162.6,513.6 162.7,513.8 162.6,514.0 162.6,514.2 162.4,514.4 162.2,514.6 162.0,514.8 161.7,514.9 161.4,515.1 161.0,515.3 160.6,515.4 160.1,515.6 159.6,515.7 159.1,515.8 158.5,515.9 157.9,516.0 157.3,516.1 156.7,516.2 156.0,516.2 155.4,516.3 154.7,516.3 154.0,516.3 L152,516.3 Z" fill="#8f0000"/>
<path d="M152,511.8 L154.0,511.8 154.5,511.8 155.1,511.8 155.6,511.9 156.2,511.9 156.7,512.0 157.2,512.0 157.7,512.1 158.1,512.2 158.5,512.3 158.9,512.4 159.3,512.5 159.7,512.6 160.0,512.8 160.2,512.9 160.5,513.0 160.7,513.2 160.8,513.3 160.9,513.5 161.0,513.6 161.0,513.8 161.0,514.0 160.9,514.1 160.8,514.3 160.7,514.4 160.5,514.6 160.2,514.7 160.0,514.8 159.7,515.0 159.3,515.1 158.9,515.2 158.5,515.3 158.1,515.4 157.7,515.5 157.2,515.6 156.7,515.6 156.2,515.7 155.6,515.7 155.1,515.8 154.5,515.8 154.0,515.8 L152,515.8 Z" fill="#800000"/>
</g></g>
<clipPath id="cc"><rect x="154" y="889.7" width="799" height="120.29999999999995"/></clipPath>
<g clip-path="url(#cc)">
<rect x="154" y="889.7" width="799" height="120.29999999999995" fill="#0000df"/>
<rect x="154" y="928.8" width="399.0" height="1.1" fill="#0014f4"/>
<rect x="154" y="969.6" width="399.0" height="1.1" fill="#0014f4"/>
<rect x="553.0" y="889.7" width="400.0" height="120.29999999999995" fill="#20ffdf"/>
<path d="M553.0,929.9 Q424.0,925.1 424.0,888.7 H955 V929.9 H556.0 Z" fill="#0000ef"/>
<path d="M553.0,969.6 Q424.0,974.4 424.0,1011.0 H955 V969.6 H556.0 Z" fill="#0000ef"/>
<path d="M553.0,929.9 Q493.0,919.9 493.0,888.7 H955 V929.9 H556.0 Z" fill="#0000ff"/>
<path d="M553.0,969.6 Q493.0,979.7 493.0,1011.0 H955 V969.6 H556.0 Z" fill="#0000ff"/>
<path d="M553.0,929.9 Q507.0,917.8 507.0,888.7 H955 V929.9 H556.0 Z" fill="#0010ff"/>
<path d="M553.0,969.6 Q507.0,981.7 507.0,1011.0 H955 V969.6 H556.0 Z" fill="#0010ff"/>
<path d="M553.0,929.9 Q514.5,915.8 514.5,888.7 H955 V929.9 H556.0 Z" fill="#0020ff"/>
<path d="M553.0,969.6 Q514.5,983.7 514.5,1011.0 H955 V969.6 H556.0 Z" fill="#0020ff"/>
<path d="M553.0,929.9 Q522.0,913.8 522.0,888.7 H955 V929.9 H556.0 Z" fill="#0030ff"/>
<path d="M553.0,969.6 Q522.0,985.8 522.0,1011.0 H955 V969.6 H556.0 Z" fill="#0030ff"/>
<path d="M553.0,929.9 Q527.5,912.2 527.5,888.7 H955 V929.9 H556.0 Z" fill="#0040ff"/>
<path d="M553.0,969.6 Q527.5,987.4 527.5,1011.0 H955 V969.6 H556.0 Z" fill="#0040ff"/>
<path d="M553.0,929.9 Q533.0,910.6 533.0,888.7 H955 V929.9 H556.0 Z" fill="#0050ff"/>
<path d="M553.0,969.6 Q533.0,989.0 533.0,1011.0 H955 V969.6 H556.0 Z" fill="#0050ff"/>
<path d="M553.0,929.9 Q537.3,909.0 537.3,888.7 H955 V929.9 H556.0 Z" fill="#0060ff"/>
<path d="M553.0,969.6 Q537.3,990.6 537.3,1011.0 H955 V969.6 H556.0 Z" fill="#0060ff"/>
<path d="M553.0,929.9 Q541.7,907.4 541.7,888.7 H955 V929.9 H556.0 Z" fill="#0070ff"/>
<path d="M553.0,969.6 Q541.7,992.2 541.7,1011.0 H955 V969.6 H556.0 Z" fill="#0070ff"/>
<path d="M553.0,929.9 Q546.0,905.8 546.0,888.7 H955 V929.9 H556.0 Z" fill="#0080ff"/>
<path d="M553.0,969.6 Q546.0,993.8 546.0,1011.0 H955 V969.6 H556.0 Z" fill="#0080ff"/>
<path d="M553.0,929.9 Q550.0,905.3 550.0,888.7 H955 V929.9 H556.0 Z" fill="#008fff"/>
<path d="M553.0,969.6 Q550.0,994.3 550.0,1011.0 H955 V969.6 H556.0 Z" fill="#008fff"/>
<path d="M553.0,929.9 Q554.0,904.8 554.0,888.7 H955 V929.9 H556.0 Z" fill="#009fff"/>
<path d="M553.0,969.6 Q554.0,994.9 554.0,1011.0 H955 V969.6 H556.0 Z" fill="#009fff"/>
<path d="M553.0,929.9 Q557.5,904.3 557.5,888.7 H955 V929.9 H556.0 Z" fill="#00afff"/>
<path d="M553.0,969.6 Q557.5,995.4 557.5,1011.0 H955 V969.6 H556.0 Z" fill="#00afff"/>
<path d="M553.0,929.9 Q561.0,903.8 561.0,888.7 H955 V929.9 H556.0 Z" fill="#00bfff"/>
<path d="M553.0,969.6 Q561.0,995.9 561.0,1011.0 H955 V969.6 H556.0 Z" fill="#00bfff"/>
<path d="M553.0,929.9 Q564.5,905.8 564.5,888.7 H955 V929.9 H556.0 Z" fill="#00cfff"/>
<path d="M553.0,969.6 Q564.5,993.8 564.5,1011.0 H955 V969.6 H556.0 Z" fill="#00cfff"/>
<path d="M553.0,929.9 Q568.0,907.8 568.0,888.7 H955 V929.9 H556.0 Z" fill="#00dfff"/>
<path d="M553.0,969.6 Q568.0,991.8 568.0,1011.0 H955 V969.6 H556.0 Z" fill="#00dfff"/>
<path d="M553.0,929.9 Q574.0,911.8 574.0,888.7 H955 V929.9 H556.0 Z" fill="#00efff"/>
<path d="M553.0,969.6 Q574.0,987.8 574.0,1011.0 H955 V969.6 H556.0 Z" fill="#00efff"/>
<path d="M553.0,929.9 Q584.0,915.8 584.0,888.7 H955 V929.9 H556.0 Z" fill="#00ffff"/>
<path d="M553.0,969.6 Q584.0,983.7 584.0,1011.0 H955 V969.6 H556.0 Z" fill="#00ffff"/>
<path d="M553.0,929.9 Q597.0,921.9 597.0,888.7 H955 V929.9 H556.0 Z" fill="#10ffef"/>
<path d="M553.0,969.6 Q597.0,977.7 597.0,1011.0 H955 V969.6 H556.0 Z" fill="#10ffef"/>
<path d="M553.0,929.9 Q633.0,925.1 633.0,888.7 H955 V931.1 H556.0 Z" fill="#20ffdf"/>
<path d="M553.0,969.6 Q633.0,974.4 633.0,1011.0 H955 V968.4 H556.0 Z" fill="#20ffdf"/>
<path d="M553.0,929.9 C560.5,918.7 603.0,921.5 603.0,949.8 C603.0,978.0 560.5,980.8 553.0,969.6 Z" fill="#30ffcf"/>
<path d="M553.0,929.9 C558.0,921.1 586.0,923.3 586.0,949.8 C586.0,976.2 558.0,978.4 553.0,969.6 Z" fill="#40ffbf"/>
<path d="M553.0,929.9 C557.0,921.9 580.0,923.9 580.0,949.8 C580.0,975.6 557.0,977.6 553.0,969.6 Z" fill="#50ffaf"/>
<path d="M553.0,929.9 C556.3,922.7 575.0,924.5 575.0,949.8 C575.0,975.0 556.3,976.8 553.0,969.6 Z" fill="#60ff9f"/>
<path d="M553.0,929.9 C555.9,923.5 572.0,925.1 572.0,949.8 C572.0,974.4 555.9,976.0 553.0,969.6 Z" fill="#70ff8f"/>
<path d="M553.0,929.9 C555.4,924.3 569.0,925.7 569.0,949.8 C569.0,973.8 555.4,975.2 553.0,969.6 Z" fill="#80ff80"/>
<path d="M553.0,929.9 C554.8,925.9 565.0,926.9 565.0,949.8 C565.0,972.6 554.8,973.6 553.0,969.6 Z" fill="#9fff60"/>
<path d="M553.0,929.9 C554.2,927.5 561.0,928.1 561.0,949.8 C561.0,971.4 554.2,972.0 553.0,969.6 Z" fill="#bfff40"/>
<path d="M553.0,929.9 C553.8,928.3 558.0,928.7 558.0,949.8 C558.0,970.8 553.8,971.2 553.0,969.6 Z" fill="#dfff20"/>
<path d="M553.0,929.9 C553.4,929.9 555.5,929.9 555.5,949.8 C555.5,969.6 553.4,969.6 553.0,969.6 Z" fill="#ffff00"/>
<clipPath id="cband"><rect x="154" y="929.9" width="399.0" height="39.700000000000045"/></clipPath><g clip-path="url(#cband)">
<rect x="154" y="929.9" width="399.0" height="39.700000000000045" fill="#800000"/>
<rect x="154" y="929.9" width="399.0" height="1.1" fill="#a01000"/>
<rect x="154" y="968.5" width="399.0" height="1.1" fill="#a01000"/>
<circle cx="523.00" cy="949.75" r="45" fill="#8f0000"/>
<circle cx="539.00" cy="949.75" r="40" fill="#9f0000"/>
<circle cx="545.00" cy="949.75" r="36" fill="#af0000"/>
<circle cx="548.00" cy="949.75" r="33" fill="#bf0000"/>
<circle cx="550.00" cy="949.75" r="30" fill="#cf0000"/>
<circle cx="551.50" cy="949.75" r="28" fill="#df0000"/>
<circle cx="552.50" cy="949.75" r="26" fill="#ef0000"/>
<circle cx="553.00" cy="949.75" r="23" fill="#ff0000"/>
<circle cx="553.75" cy="949.75" r="21" fill="#ff1000"/>
<circle cx="555.50" cy="949.75" r="21" fill="#ff2000"/>
<circle cx="557.25" cy="949.75" r="21" fill="#ff3000"/>
<circle cx="559.00" cy="949.75" r="21" fill="#ff4000"/>
<circle cx="560.50" cy="949.75" r="21" fill="#ff5000"/>
<circle cx="562.00" cy="949.75" r="21" fill="#ff6000"/>
<circle cx="563.50" cy="949.75" r="21" fill="#ff7000"/>
<circle cx="565.00" cy="949.75" r="21" fill="#ff8000"/>
<circle cx="566.00" cy="949.75" r="21" fill="#ff8f00"/>
<circle cx="567.00" cy="949.75" r="21" fill="#ff9f00"/>
<circle cx="568.00" cy="949.75" r="21" fill="#ffaf00"/>
<circle cx="569.00" cy="949.75" r="21" fill="#ffbf00"/>
<circle cx="569.75" cy="949.75" r="21" fill="#ffcf00"/>
<circle cx="570.50" cy="949.75" r="21" fill="#ffdf00"/>
<circle cx="571.25" cy="949.75" r="21" fill="#ffef00"/>
<circle cx="572.00" cy="949.75" r="21" fill="#ffff00"/>
</g>
</g>
<path d="M152.5,29.5 H161.0" stroke="#262626" stroke-width="1" fill="none"/>
<path d="M153.5,466.7 H162.0" stroke="#262626" stroke-width="1" fill="none"/>
<path d="M153.5,889.5 H162.0" stroke="#262626" stroke-width="1" fill="none"/>
<path d="M949.5,29.4 H952.5 V34.7" stroke="#d4d4d4" stroke-width="0.9" fill="none"/>
<path d="M950.5,466.59999999999997 H953.5 V471.9" stroke="#d4d4d4" stroke-width="0.9" fill="none"/>
<rect x="152.500" y="254.05" width="12.900" height="16.899999999999977" fill="#00008f"/>
<rect x="165.000" y="254.05" width="12.900" height="16.899999999999977" fill="#00009f"/>
<rect x="177.500" y="254.05" width="12.900" height="16.899999999999977" fill="#0000af"/>
<rect x="190.000" y="254.05" width="12.900" height="16.899999999999977" fill="#0000bf"/>
<rect x="202.500" y="254.05" width="12.900" height="16.899999999999977" fill="#0000cf"/>
<rect x="215.000" y="254.05" width="12.900" height="16.899999999999977" fill="#0000df"/>
<rect x="227.500" y="254.05" width="12.900" height="16.899999999999977" fill="#0000ef"/>
<rect x="240.000" y="254.05" width="12.900" height="16.899999999999977" fill="#0000ff"/>
<rect x="252.500" y="254.05" width="12.900" height="16.899999999999977" fill="#0010ff"/>
<rect x="265.000" y="254.05" width="12.900" height="16.899999999999977" fill="#0020ff"/>
<rect x="277.500" y="254.05" width="12.900" height="16.899999999999977" fill="#0030ff"/>
<rect x="290.000" y="254.05" width="12.900" height="16.899999999999977" fill="#0040ff"/>
<rect x="302.500" y="254.05" width="12.900" height="16.899999999999977" fill="#0050ff"/>
<rect x="315.000" y="254.05" width="12.900" height="16.899999999999977" fill="#0060ff"/>
<rect x="327.500" y="254.05" width="12.900" height="16.899999999999977" fill="#0070ff"/>
<rect x="340.000" y="254.05" width="12.900" height="16.899999999999977" fill="#0080ff"/>
<rect x="352.500" y="254.05" width="12.900" height="16.899999999999977" fill="#008fff"/>
<rect x="365.000" y="254.05" width="12.900" height="16.899999999999977" fill="#009fff"/>
<rect x="377.500" y="254.05" width="12.900" height="16.899999999999977" fill="#00afff"/>
<rect x="390.000" y="254.05" width="12.900" height="16.899999999999977" fill="#00bfff"/>
<rect x="402.500" y="254.05" width="12.900" height="16.899999999999977" fill="#00cfff"/>
<rect x="415.000" y="254.05" width="12.900" height="16.899999999999977" fill="#00dfff"/>
<rect x="427.500" y="254.05" width="12.900" height="16.899999999999977" fill="#00efff"/>
<rect x="440.000" y="254.05" width="12.900" height="16.899999999999977" fill="#00ffff"/>
<rect x="452.500" y="254.05" width="12.900" height="16.899999999999977" fill="#10ffef"/>
<rect x="465.000" y="254.05" width="12.900" height="16.899999999999977" fill="#20ffdf"/>
<rect x="477.500" y="254.05" width="12.900" height="16.899999999999977" fill="#30ffcf"/>
<rect x="490.000" y="254.05" width="12.900" height="16.899999999999977" fill="#40ffbf"/>
<rect x="502.500" y="254.05" width="12.900" height="16.899999999999977" fill="#50ffaf"/>
<rect x="515.000" y="254.05" width="12.900" height="16.899999999999977" fill="#60ff9f"/>
<rect x="527.500" y="254.05" width="12.900" height="16.899999999999977" fill="#70ff8f"/>
<rect x="540.000" y="254.05" width="12.900" height="16.899999999999977" fill="#80ff80"/>
<rect x="552.500" y="254.05" width="12.900" height="16.899999999999977" fill="#8fff70"/>
<rect x="565.000" y="254.05" width="12.900" height="16.899999999999977" fill="#9fff60"/>
<rect x="577.500" y="254.05" width="12.900" height="16.899999999999977" fill="#afff50"/>
<rect x="590.000" y="254.05" width="12.900" height="16.899999999999977" fill="#bfff40"/>
<rect x="602.500" y="254.05" width="12.900" height="16.899999999999977" fill="#cfff30"/>
<rect x="615.000" y="254.05" width="12.900" height="16.899999999999977" fill="#dfff20"/>
<rect x="627.500" y="254.05" width="12.900" height="16.899999999999977" fill="#efff10"/>
<rect x="640.000" y="254.05" width="12.900" height="16.899999999999977" fill="#ffff00"/>
<rect x="652.500" y="254.05" width="12.900" height="16.899999999999977" fill="#ffef00"/>
<rect x="665.000" y="254.05" width="12.900" height="16.899999999999977" fill="#ffdf00"/>
<rect x="677.500" y="254.05" width="12.900" height="16.899999999999977" fill="#ffcf00"/>
<rect x="690.000" y="254.05" width="12.900" height="16.899999999999977" fill="#ffbf00"/>
<rect x="702.500" y="254.05" width="12.900" height="16.899999999999977" fill="#ffaf00"/>
<rect x="715.000" y="254.05" width="12.900" height="16.899999999999977" fill="#ff9f00"/>
<rect x="727.500" y="254.05" width="12.900" height="16.899999999999977" fill="#ff8f00"/>
<rect x="740.000" y="254.05" width="12.900" height="16.899999999999977" fill="#ff8000"/>
<rect x="752.500" y="254.05" width="12.900" height="16.899999999999977" fill="#ff7000"/>
<rect x="765.000" y="254.05" width="12.900" height="16.899999999999977" fill="#ff6000"/>
<rect x="777.500" y="254.05" width="12.900" height="16.899999999999977" fill="#ff5000"/>
<rect x="790.000" y="254.05" width="12.900" height="16.899999999999977" fill="#ff4000"/>
<rect x="802.500" y="254.05" width="12.900" height="16.899999999999977" fill="#ff3000"/>
<rect x="815.000" y="254.05" width="12.900" height="16.899999999999977" fill="#ff2000"/>
<rect x="827.500" y="254.05" width="12.900" height="16.899999999999977" fill="#ff1000"/>
<rect x="840.000" y="254.05" width="12.900" height="16.899999999999977" fill="#ff0000"/>
<rect x="852.500" y="254.05" width="12.900" height="16.899999999999977" fill="#ef0000"/>
<rect x="865.000" y="254.05" width="12.900" height="16.899999999999977" fill="#df0000"/>
<rect x="877.500" y="254.05" width="12.900" height="16.899999999999977" fill="#cf0000"/>
<rect x="890.000" y="254.05" width="12.900" height="16.899999999999977" fill="#bf0000"/>
<rect x="902.500" y="254.05" width="12.900" height="16.899999999999977" fill="#af0000"/>
<rect x="915.000" y="254.05" width="12.900" height="16.899999999999977" fill="#9f0000"/>
<rect x="927.500" y="254.05" width="12.900" height="16.899999999999977" fill="#8f0000"/>
<rect x="940.000" y="254.05" width="12.900" height="16.899999999999977" fill="#800000"/>
<rect x="152.5" y="254.05" width="800" height="16.899999999999977" fill="none" stroke="#262626" stroke-width="1.5"/>
<path d="M552.5,270.95 V263.45" stroke="#262626" stroke-width="1.2"/>
<rect x="153.500" y="691.35" width="12.900" height="16.899999999999977" fill="#00008f"/>
<rect x="166.000" y="691.35" width="12.900" height="16.899999999999977" fill="#00009f"/>
<rect x="178.500" y="691.35" width="12.900" height="16.899999999999977" fill="#0000af"/>
<rect x="191.000" y="691.35" width="12.900" height="16.899999999999977" fill="#0000bf"/>
<rect x="203.500" y="691.35" width="12.900" height="16.899999999999977" fill="#0000cf"/>
<rect x="216.000" y="691.35" width="12.900" height="16.899999999999977" fill="#0000df"/>
<rect x="228.500" y="691.35" width="12.900" height="16.899999999999977" fill="#0000ef"/>
<rect x="241.000" y="691.35" width="12.900" height="16.899999999999977" fill="#0000ff"/>
<rect x="253.500" y="691.35" width="12.900" height="16.899999999999977" fill="#0010ff"/>
<rect x="266.000" y="691.35" width="12.900" height="16.899999999999977" fill="#0020ff"/>
<rect x="278.500" y="691.35" width="12.900" height="16.899999999999977" fill="#0030ff"/>
<rect x="291.000" y="691.35" width="12.900" height="16.899999999999977" fill="#0040ff"/>
<rect x="303.500" y="691.35" width="12.900" height="16.899999999999977" fill="#0050ff"/>
<rect x="316.000" y="691.35" width="12.900" height="16.899999999999977" fill="#0060ff"/>
<rect x="328.500" y="691.35" width="12.900" height="16.899999999999977" fill="#0070ff"/>
<rect x="341.000" y="691.35" width="12.900" height="16.899999999999977" fill="#0080ff"/>
<rect x="353.500" y="691.35" width="12.900" height="16.899999999999977" fill="#008fff"/>
<rect x="366.000" y="691.35" width="12.900" height="16.899999999999977" fill="#009fff"/>
<rect x="378.500" y="691.35" width="12.900" height="16.899999999999977" fill="#00afff"/>
<rect x="391.000" y="691.35" width="12.900" height="16.899999999999977" fill="#00bfff"/>
<rect x="403.500" y="691.35" width="12.900" height="16.899999999999977" fill="#00cfff"/>
<rect x="416.000" y="691.35" width="12.900" height="16.899999999999977" fill="#00dfff"/>
<rect x="428.500" y="691.35" width="12.900" height="16.899999999999977" fill="#00efff"/>
<rect x="441.000" y="691.35" width="12.900" height="16.899999999999977" fill="#00ffff"/>
<rect x="453.500" y="691.35" width="12.900" height="16.899999999999977" fill="#10ffef"/>
<rect x="466.000" y="691.35" width="12.900" height="16.899999999999977" fill="#20ffdf"/>
<rect x="478.500" y="691.35" width="12.900" height="16.899999999999977" fill="#30ffcf"/>
<rect x="491.000" y="691.35" width="12.900" height="16.899999999999977" fill="#40ffbf"/>
<rect x="503.500" y="691.35" width="12.900" height="16.899999999999977" fill="#50ffaf"/>
<rect x="516.000" y="691.35" width="12.900" height="16.899999999999977" fill="#60ff9f"/>
<rect x="528.500" y="691.35" width="12.900" height="16.899999999999977" fill="#70ff8f"/>
<rect x="541.000" y="691.35" width="12.900" height="16.899999999999977" fill="#80ff80"/>
<rect x="553.500" y="691.35" width="12.900" height="16.899999999999977" fill="#8fff70"/>
<rect x="566.000" y="691.35" width="12.900" height="16.899999999999977" fill="#9fff60"/>
<rect x="578.500" y="691.35" width="12.900" height="16.899999999999977" fill="#afff50"/>
<rect x="591.000" y="691.35" width="12.900" height="16.899999999999977" fill="#bfff40"/>
<rect x="603.500" y="691.35" width="12.900" height="16.899999999999977" fill="#cfff30"/>
<rect x="616.000" y="691.35" width="12.900" height="16.899999999999977" fill="#dfff20"/>
<rect x="628.500" y="691.35" width="12.900" height="16.899999999999977" fill="#efff10"/>
<rect x="641.000" y="691.35" width="12.900" height="16.899999999999977" fill="#ffff00"/>
<rect x="653.500" y="691.35" width="12.900" height="16.899999999999977" fill="#ffef00"/>
<rect x="666.000" y="691.35" width="12.900" height="16.899999999999977" fill="#ffdf00"/>
<rect x="678.500" y="691.35" width="12.900" height="16.899999999999977" fill="#ffcf00"/>
<rect x="691.000" y="691.35" width="12.900" height="16.899999999999977" fill="#ffbf00"/>
<rect x="703.500" y="691.35" width="12.900" height="16.899999999999977" fill="#ffaf00"/>
<rect x="716.000" y="691.35" width="12.900" height="16.899999999999977" fill="#ff9f00"/>
<rect x="728.500" y="691.35" width="12.900" height="16.899999999999977" fill="#ff8f00"/>
<rect x="741.000" y="691.35" width="12.900" height="16.899999999999977" fill="#ff8000"/>
<rect x="753.500" y="691.35" width="12.900" height="16.899999999999977" fill="#ff7000"/>
<rect x="766.000" y="691.35" width="12.900" height="16.899999999999977" fill="#ff6000"/>
<rect x="778.500" y="691.35" width="12.900" height="16.899999999999977" fill="#ff5000"/>
<rect x="791.000" y="691.35" width="12.900" height="16.899999999999977" fill="#ff4000"/>
<rect x="803.500" y="691.35" width="12.900" height="16.899999999999977" fill="#ff3000"/>
<rect x="816.000" y="691.35" width="12.900" height="16.899999999999977" fill="#ff2000"/>
<rect x="828.500" y="691.35" width="12.900" height="16.899999999999977" fill="#ff1000"/>
<rect x="841.000" y="691.35" width="12.900" height="16.899999999999977" fill="#ff0000"/>
<rect x="853.500" y="691.35" width="12.900" height="16.899999999999977" fill="#ef0000"/>
<rect x="866.000" y="691.35" width="12.900" height="16.899999999999977" fill="#df0000"/>
<rect x="878.500" y="691.35" width="12.900" height="16.899999999999977" fill="#cf0000"/>
<rect x="891.000" y="691.35" width="12.900" height="16.899999999999977" fill="#bf0000"/>
<rect x="903.500" y="691.35" width="12.900" height="16.899999999999977" fill="#af0000"/>
<rect x="916.000" y="691.35" width="12.900" height="16.899999999999977" fill="#9f0000"/>
<rect x="928.500" y="691.35" width="12.900" height="16.899999999999977" fill="#8f0000"/>
<rect x="941.000" y="691.35" width="12.900" height="16.899999999999977" fill="#800000"/>
<rect x="153.5" y="691.35" width="800" height="16.899999999999977" fill="none" stroke="#262626" stroke-width="1.5"/>
<path d="M553.5,708.25 V700.75" stroke="#262626" stroke-width="1.2"/>
<rect x="153.500" y="1155.0" width="12.900" height="18.34999999999991" fill="#00008f"/>
<rect x="166.000" y="1155.0" width="12.900" height="18.34999999999991" fill="#00009f"/>
<rect x="178.500" y="1155.0" width="12.900" height="18.34999999999991" fill="#0000af"/>
<rect x="191.000" y="1155.0" width="12.900" height="18.34999999999991" fill="#0000bf"/>
<rect x="203.500" y="1155.0" width="12.900" height="18.34999999999991" fill="#0000cf"/>
<rect x="216.000" y="1155.0" width="12.900" height="18.34999999999991" fill="#0000df"/>
<rect x="228.500" y="1155.0" width="12.900" height="18.34999999999991" fill="#0000ef"/>
<rect x="241.000" y="1155.0" width="12.900" height="18.34999999999991" fill="#0000ff"/>
<rect x="253.500" y="1155.0" width="12.900" height="18.34999999999991" fill="#0010ff"/>
<rect x="266.000" y="1155.0" width="12.900" height="18.34999999999991" fill="#0020ff"/>
<rect x="278.500" y="1155.0" width="12.900" height="18.34999999999991" fill="#0030ff"/>
<rect x="291.000" y="1155.0" width="12.900" height="18.34999999999991" fill="#0040ff"/>
<rect x="303.500" y="1155.0" width="12.900" height="18.34999999999991" fill="#0050ff"/>
<rect x="316.000" y="1155.0" width="12.900" height="18.34999999999991" fill="#0060ff"/>
<rect x="328.500" y="1155.0" width="12.900" height="18.34999999999991" fill="#0070ff"/>
<rect x="341.000" y="1155.0" width="12.900" height="18.34999999999991" fill="#0080ff"/>
<rect x="353.500" y="1155.0" width="12.900" height="18.34999999999991" fill="#008fff"/>
<rect x="366.000" y="1155.0" width="12.900" height="18.34999999999991" fill="#009fff"/>
<rect x="378.500" y="1155.0" width="12.900" height="18.34999999999991" fill="#00afff"/>
<rect x="391.000" y="1155.0" width="12.900" height="18.34999999999991" fill="#00bfff"/>
<rect x="403.500" y="1155.0" width="12.900" height="18.34999999999991" fill="#00cfff"/>
<rect x="416.000" y="1155.0" width="12.900" height="18.34999999999991" fill="#00dfff"/>
<rect x="428.500" y="1155.0" width="12.900" height="18.34999999999991" fill="#00efff"/>
<rect x="441.000" y="1155.0" width="12.900" height="18.34999999999991" fill="#00ffff"/>
<rect x="453.500" y="1155.0" width="12.900" height="18.34999999999991" fill="#10ffef"/>
<rect x="466.000" y="1155.0" width="12.900" height="18.34999999999991" fill="#20ffdf"/>
<rect x="478.500" y="1155.0" width="12.900" height="18.34999999999991" fill="#30ffcf"/>
<rect x="491.000" y="1155.0" width="12.900" height="18.34999999999991" fill="#40ffbf"/>
<rect x="503.500" y="1155.0" width="12.900" height="18.34999999999991" fill="#50ffaf"/>
<rect x="516.000" y="1155.0" width="12.900" height="18.34999999999991" fill="#60ff9f"/>
<rect x="528.500" y="1155.0" width="12.900" height="18.34999999999991" fill="#70ff8f"/>
<rect x="541.000" y="1155.0" width="12.900" height="18.34999999999991" fill="#80ff80"/>
<rect x="553.500" y="1155.0" width="12.900" height="18.34999999999991" fill="#8fff70"/>
<rect x="566.000" y="1155.0" width="12.900" height="18.34999999999991" fill="#9fff60"/>
<rect x="578.500" y="1155.0" width="12.900" height="18.34999999999991" fill="#afff50"/>
<rect x="591.000" y="1155.0" width="12.900" height="18.34999999999991" fill="#bfff40"/>
<rect x="603.500" y="1155.0" width="12.900" height="18.34999999999991" fill="#cfff30"/>
<rect x="616.000" y="1155.0" width="12.900" height="18.34999999999991" fill="#dfff20"/>
<rect x="628.500" y="1155.0" width="12.900" height="18.34999999999991" fill="#efff10"/>
<rect x="641.000" y="1155.0" width="12.900" height="18.34999999999991" fill="#ffff00"/>
<rect x="653.500" y="1155.0" width="12.900" height="18.34999999999991" fill="#ffef00"/>
<rect x="666.000" y="1155.0" width="12.900" height="18.34999999999991" fill="#ffdf00"/>
<rect x="678.500" y="1155.0" width="12.900" height="18.34999999999991" fill="#ffcf00"/>
<rect x="691.000" y="1155.0" width="12.900" height="18.34999999999991" fill="#ffbf00"/>
<rect x="703.500" y="1155.0" width="12.900" height="18.34999999999991" fill="#ffaf00"/>
<rect x="716.000" y="1155.0" width="12.900" height="18.34999999999991" fill="#ff9f00"/>
<rect x="728.500" y="1155.0" width="12.900" height="18.34999999999991" fill="#ff8f00"/>
<rect x="741.000" y="1155.0" width="12.900" height="18.34999999999991" fill="#ff8000"/>
<rect x="753.500" y="1155.0" width="12.900" height="18.34999999999991" fill="#ff7000"/>
<rect x="766.000" y="1155.0" width="12.900" height="18.34999999999991" fill="#ff6000"/>
<rect x="778.500" y="1155.0" width="12.900" height="18.34999999999991" fill="#ff5000"/>
<rect x="791.000" y="1155.0" width="12.900" height="18.34999999999991" fill="#ff4000"/>
<rect x="803.500" y="1155.0" width="12.900" height="18.34999999999991" fill="#ff3000"/>
<rect x="816.000" y="1155.0" width="12.900" height="18.34999999999991" fill="#ff2000"/>
<rect x="828.500" y="1155.0" width="12.900" height="18.34999999999991" fill="#ff1000"/>
<rect x="841.000" y="1155.0" width="12.900" height="18.34999999999991" fill="#ff0000"/>
<rect x="853.500" y="1155.0" width="12.900" height="18.34999999999991" fill="#ef0000"/>
<rect x="866.000" y="1155.0" width="12.900" height="18.34999999999991" fill="#df0000"/>
<rect x="878.500" y="1155.0" width="12.900" height="18.34999999999991" fill="#cf0000"/>
<rect x="891.000" y="1155.0" width="12.900" height="18.34999999999991" fill="#bf0000"/>
<rect x="903.500" y="1155.0" width="12.900" height="18.34999999999991" fill="#af0000"/>
<rect x="916.000" y="1155.0" width="12.900" height="18.34999999999991" fill="#9f0000"/>
<rect x="928.500" y="1155.0" width="12.900" height="18.34999999999991" fill="#8f0000"/>
<rect x="941.000" y="1155.0" width="12.900" height="18.34999999999991" fill="#800000"/>
<rect x="153.5" y="1155.0" width="800" height="18.34999999999991" fill="none" stroke="#262626" stroke-width="1.5"/>
<path d="M353.5,1173.35 V1165.85M553.5,1173.35 V1165.85M753.5,1173.35 V1165.85" stroke="#262626" stroke-width="1.2"/>
<text x="139.1" y="39.1" font-size="38.2" text-anchor="end">0.05</text>
<text x="139.1" y="118.9" font-size="38.2" text-anchor="end">-0.05</text>
<text x="152.5" y="155.8" font-size="38.2" text-anchor="middle">0</text>
<text x="352.5" y="155.8" font-size="38.2" text-anchor="middle">0.25</text>
<text x="552.5" y="155.8" font-size="38.2" text-anchor="middle">0.5</text>
<text x="752.5" y="155.8" font-size="38.2" text-anchor="middle">0.75</text>
<text x="952.5" y="155.8" font-size="38.2" text-anchor="middle">1</text>
<text transform="translate(483.03,206.80) scale(1.160,1)" font-size="42" class="it">r</text>
<text transform="translate(520.60,207.40) scale(0.830,1)" font-size="46.5">(</text>
<text transform="translate(534.86,206.80) scale(1.063,1)" font-size="42">mm</text>
<text transform="translate(606.04,207.40) scale(0.830,1)" font-size="46.5">)</text>
<g transform="translate(36.5,136.7) rotate(-90)">
<text transform="translate(0.55,0.00) scale(1.160,1)" font-size="42" class="it">z</text>
<text transform="translate(35.60,0.60) scale(0.830,1)" font-size="46.5">(</text>
<text transform="translate(49.86,0.00) scale(1.063,1)" font-size="42">mm</text>
<text transform="translate(120.74,0.60) scale(0.830,1)" font-size="46.5">)</text>
</g>
<text x="140.1" y="476.40000000000003" font-size="38.2" text-anchor="end">0.05</text>
<text x="140.1" y="556.2" font-size="38.2" text-anchor="end">-0.05</text>
<text x="153.5" y="593.1" font-size="38.2" text-anchor="middle">0</text>
<text x="353.5" y="593.1" font-size="38.2" text-anchor="middle">0.25</text>
<text x="553.5" y="593.1" font-size="38.2" text-anchor="middle">0.5</text>
<text x="753.5" y="593.1" font-size="38.2" text-anchor="middle">0.75</text>
<text x="953.5" y="593.1" font-size="38.2" text-anchor="middle">1</text>
<text transform="translate(484.03,644.10) scale(1.160,1)" font-size="42" class="it">r</text>
<text transform="translate(521.60,644.70) scale(0.830,1)" font-size="46.5">(</text>
<text transform="translate(535.86,644.10) scale(1.063,1)" font-size="42">mm</text>
<text transform="translate(607.04,644.70) scale(0.830,1)" font-size="46.5">)</text>
<g transform="translate(36.5,574.0) rotate(-90)">
<text transform="translate(0.55,0.00) scale(1.160,1)" font-size="42" class="it">z</text>
<text transform="translate(35.60,0.60) scale(0.830,1)" font-size="46.5">(</text>
<text transform="translate(49.86,0.00) scale(1.063,1)" font-size="42">mm</text>
<text transform="translate(120.74,0.60) scale(0.830,1)" font-size="46.5">)</text>
</g>
<text x="152.5" y="313" font-size="34" text-anchor="middle">0</text>
<text transform="translate(481.41,313.00)" font-size="34">0.5</text>
<text transform="translate(533.02,317.10)" font-size="39">×</text>
<text transform="translate(564.81,313.00)" font-size="34">10</text>
<text transform="translate(598.09,300.70)" font-size="24">10</text>
<text transform="translate(922.51,313.00)" font-size="34">10</text>
<text transform="translate(956.29,300.70)" font-size="24">10</text>
<text x="153.5" y="750.3" font-size="34" text-anchor="middle">0</text>
<text transform="translate(482.41,750.30)" font-size="34">0.5</text>
<text transform="translate(534.02,754.40)" font-size="39">×</text>
<text transform="translate(565.81,750.30)" font-size="34">10</text>
<text transform="translate(599.09,738.00)" font-size="24">13</text>
<text transform="translate(923.51,750.30)" font-size="34">10</text>
<text transform="translate(957.29,738.00)" font-size="24">13</text>
<text transform="translate(475.10,359.10) scale(1.270,1)" font-size="37.5" class="it">n</text>
<text transform="translate(497.91,364.20) scale(1.050,1)" font-size="26.5">e</text>
<text transform="translate(523.93,359.90) scale(0.850,1)" font-size="42">(</text>
<text transform="translate(536.26,359.10)" font-size="40">m</text>
<text transform="translate(567.62,347.20) scale(1.300,1)" font-size="26">−</text>
<text transform="translate(587.41,345.80) scale(0.950,1)" font-size="26">3</text>
<text transform="translate(602.48,359.90) scale(0.850,1)" font-size="42">)</text>
<text transform="translate(474.60,796.40) scale(1.270,1)" font-size="37.5" class="it">n</text>
<text transform="translate(497.65,796.90) scale(1.050,1)" font-size="26.5">p</text>
<text transform="translate(526.03,797.20) scale(0.850,1)" font-size="42">(</text>
<text transform="translate(538.26,796.40)" font-size="40">m</text>
<text transform="translate(570.32,784.50) scale(1.300,1)" font-size="26">−</text>
<text transform="translate(591.61,783.10) scale(0.950,1)" font-size="26">3</text>
<text transform="translate(604.78,797.20) scale(0.850,1)" font-size="42">)</text>
<text x="139.7" y="899.4" font-size="38.2" text-anchor="end">0.15</text>
<text x="139.7" y="1018.9" font-size="38.2" text-anchor="end">-0.15</text>
<text x="153.5" y="1055.6" font-size="38.2" text-anchor="middle">0</text>
<text x="353.5" y="1055.6" font-size="38.2" text-anchor="middle">0.5</text>
<text x="553.5" y="1055.6" font-size="38.2" text-anchor="middle">1</text>
<text x="753.5" y="1055.6" font-size="38.2" text-anchor="middle">1.5</text>
<text x="953.5" y="1055.6" font-size="38.2" text-anchor="middle">2</text>
<text transform="translate(484.03,1107.00) scale(1.160,1)" font-size="42" class="it">r</text>
<text transform="translate(521.60,1107.60) scale(0.830,1)" font-size="46.5">(</text>
<text transform="translate(535.86,1107.00) scale(1.063,1)" font-size="42">mm</text>
<text transform="translate(607.04,1107.60) scale(0.830,1)" font-size="46.5">)</text>
<g transform="translate(36.5,1016.9) rotate(-90)">
<text transform="translate(0.55,0.00) scale(1.160,1)" font-size="42" class="it">z</text>
<text transform="translate(35.60,0.60) scale(0.830,1)" font-size="46.5">(</text>
<text transform="translate(49.86,0.00) scale(1.063,1)" font-size="42">mm</text>
<text transform="translate(120.74,0.60) scale(0.830,1)" font-size="46.5">)</text>
</g>
<text x="153.5" y="1214.6" font-size="34" text-anchor="middle">3</text>
<text x="353.5" y="1214.6" font-size="34" text-anchor="middle">4.25</text>
<text x="553.5" y="1214.6" font-size="34" text-anchor="middle">5.5</text>
<text x="753.5" y="1214.6" font-size="34" text-anchor="middle">6.75</text>
<text x="953.5" y="1214.6" font-size="34" text-anchor="middle">8</text>
<text transform="translate(436.09,1265.00)" font-size="40">|</text>
<text transform="translate(450.62,1264.40) scale(1.210,1)" font-size="37" class="it">E</text>
<path d="M447.5,1233.9 H478.5" stroke="#262626" stroke-width="1.3" fill="none"/>
<path d="M473.5,1229.3 Q476.5,1232.6 479.8,1233.9 Q476,1235.6 473.9,1239.2" stroke="#262626" stroke-width="1.2" fill="none"/>
<text transform="translate(483.39,1265.00)" font-size="40">|</text>
<text transform="translate(504.73,1265.20) scale(0.850,1)" font-size="42">(</text>
<text transform="translate(517.38,1264.40) scale(0.945,1)" font-size="40">kV</text>
<text transform="translate(566.50,1272.90)" font-size="54.4">/</text>
<text transform="translate(583.46,1264.40)" font-size="40">mm</text>
<text transform="translate(644.28,1265.20) scale(0.850,1)" font-size="42">)</text>
<text transform="translate(534.55,406.50)" font-size="33" class="cap">(a)</text>
<text transform="translate(534.55,842.60)" font-size="33" class="cap">(b)</text>
<text transform="translate(534.55,1309.70)" font-size="33" class="cap">(c)</text>
</svg></body></html>
